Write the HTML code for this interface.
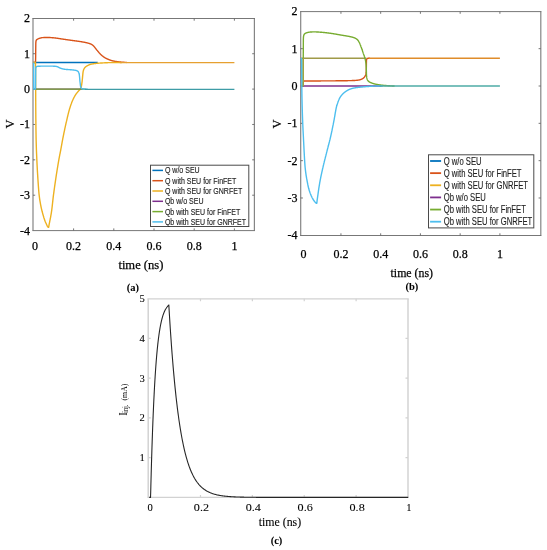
<!DOCTYPE html>
<html><head><meta charset="utf-8"><title>Figure</title>
<style>html,body{margin:0;padding:0;background:#fff;}svg{display:block;}</style>
</head><body>
<svg width="547" height="550" viewBox="0 0 547 550">
<rect width="547" height="550" fill="#fff"/>
<g fill="none"><path d="M33.0,18.5V230.6M254.4,18.5V230.6" stroke="#858585" stroke-width="1.2"/><path d="M32.40,18.5H255.00M32.40,230.6H255.00" stroke="#686868" stroke-width="0.9"/><path d="M73.60,230.6v-2.2M73.60,18.5v2.2M113.80,230.6v-2.2M113.80,18.5v2.2M154.00,230.6v-2.2M154.00,18.5v2.2M194.20,230.6v-2.2M194.20,18.5v2.2M234.40,230.6v-2.2M234.40,18.5v2.2M33.0,53.73h2.2M254.4,53.73h-2.2M33.0,89.10h2.2M254.4,89.10h-2.2M33.0,124.47h2.2M254.4,124.47h-2.2M33.0,159.84h2.2M254.4,159.84h-2.2M33.0,195.21h2.2M254.4,195.21h-2.2" stroke="#686868" stroke-width="0.9"/></g>
<path d="M33.40,62.57 L97.72,62.57" fill="none" stroke="#0072BD" stroke-width="1.4" stroke-linejoin="round" stroke-linecap="butt" />
<path d="M33.40,62.57 L33.56,62.57 L33.71,62.57 L33.87,62.57 L34.02,62.57 L34.18,62.57 L34.34,62.57 L34.49,62.57 L34.65,62.57 L34.80,62.57 L34.96,62.57 L35.12,62.57 L35.27,62.57 L35.43,62.57 L35.51,62.57 L35.58,60.68 L35.65,57.27 L35.74,48.46 L35.81,43.12 L35.90,41.96 L36.05,40.83 L36.11,40.64 L36.21,40.44 L36.36,40.16 L36.52,39.93 L36.68,39.75 L36.83,39.61 L36.99,39.50 L37.14,39.40 L37.30,39.30 L37.42,39.23 L37.46,39.20 L37.61,39.11 L37.77,39.02 L37.93,38.94 L38.08,38.86 L38.24,38.78 L38.39,38.72 L38.55,38.65 L38.71,38.59 L38.86,38.53 L39.02,38.48 L39.17,38.43 L39.33,38.38 L39.43,38.34 L39.49,38.33 L39.64,38.28 L39.80,38.23 L39.95,38.18 L40.11,38.13 L40.27,38.09 L40.42,38.04 L40.58,37.99 L40.73,37.95 L40.89,37.91 L41.05,37.87 L41.20,37.83 L41.36,37.80 L41.51,37.76 L41.67,37.73 L41.83,37.71 L41.98,37.68 L42.14,37.66 L42.29,37.65 L42.45,37.64 L42.45,37.64 L42.61,37.63 L42.76,37.62 L42.92,37.61 L43.07,37.60 L43.23,37.59 L43.39,37.58 L43.54,37.57 L43.70,37.56 L43.85,37.56 L44.01,37.55 L44.17,37.54 L44.32,37.53 L44.48,37.53 L44.63,37.52 L44.79,37.51 L44.95,37.51 L45.10,37.50 L45.26,37.50 L45.41,37.49 L45.57,37.49 L45.73,37.48 L45.88,37.48 L46.04,37.48 L46.19,37.47 L46.35,37.47 L46.51,37.47 L46.66,37.46 L46.82,37.46 L46.98,37.46 L47.13,37.46 L47.29,37.46 L47.44,37.46 L47.47,37.46 L47.60,37.46 L47.76,37.46 L47.91,37.46 L48.07,37.47 L48.22,37.47 L48.38,37.47 L48.54,37.48 L48.69,37.48 L48.85,37.49 L49.00,37.49 L49.16,37.50 L49.32,37.51 L49.47,37.52 L49.63,37.52 L49.78,37.53 L49.94,37.54 L50.10,37.55 L50.25,37.56 L50.41,37.57 L50.56,37.58 L50.72,37.59 L50.88,37.60 L51.03,37.62 L51.19,37.63 L51.34,37.64 L51.50,37.65 L51.66,37.66 L51.81,37.68 L51.97,37.69 L52.12,37.70 L52.28,37.71 L52.44,37.73 L52.59,37.74 L52.75,37.75 L52.90,37.77 L53.06,37.78 L53.22,37.79 L53.37,37.80 L53.50,37.81 L53.53,37.82 L53.68,37.83 L53.84,37.84 L54.00,37.86 L54.15,37.87 L54.31,37.89 L54.46,37.90 L54.62,37.92 L54.78,37.93 L54.93,37.95 L55.09,37.97 L55.24,37.99 L55.40,38.01 L55.56,38.02 L55.71,38.04 L55.87,38.06 L56.03,38.08 L56.18,38.10 L56.34,38.12 L56.49,38.15 L56.65,38.17 L56.81,38.19 L56.96,38.21 L57.12,38.23 L57.27,38.26 L57.43,38.28 L57.59,38.30 L57.74,38.32 L57.90,38.35 L58.05,38.37 L58.21,38.40 L58.37,38.42 L58.52,38.44 L58.68,38.47 L58.83,38.49 L58.99,38.52 L59.15,38.54 L59.30,38.57 L59.46,38.59 L59.61,38.62 L59.77,38.64 L59.93,38.67 L60.08,38.69 L60.24,38.72 L60.39,38.74 L60.55,38.77 L60.71,38.79 L60.86,38.82 L61.02,38.84 L61.17,38.87 L61.33,38.89 L61.49,38.92 L61.64,38.94 L61.80,38.97 L61.95,38.99 L62.11,39.01 L62.27,39.04 L62.42,39.06 L62.58,39.09 L62.73,39.11 L62.89,39.13 L63.05,39.16 L63.20,39.18 L63.36,39.20 L63.51,39.22 L63.55,39.23 L63.67,39.25 L63.83,39.27 L63.98,39.29 L64.14,39.31 L64.29,39.33 L64.45,39.36 L64.61,39.38 L64.76,39.40 L64.92,39.42 L65.08,39.44 L65.23,39.47 L65.39,39.49 L65.54,39.51 L65.70,39.53 L65.86,39.55 L66.01,39.58 L66.17,39.60 L66.32,39.62 L66.48,39.64 L66.64,39.66 L66.79,39.69 L66.95,39.71 L67.10,39.73 L67.26,39.75 L67.42,39.77 L67.57,39.80 L67.73,39.82 L67.88,39.84 L68.04,39.86 L68.20,39.88 L68.35,39.91 L68.51,39.93 L68.66,39.95 L68.82,39.97 L68.98,39.99 L69.13,40.02 L69.29,40.04 L69.44,40.06 L69.60,40.08 L69.76,40.10 L69.91,40.13 L70.07,40.15 L70.22,40.17 L70.38,40.19 L70.54,40.21 L70.69,40.24 L70.85,40.26 L71.00,40.28 L71.16,40.30 L71.32,40.32 L71.47,40.35 L71.63,40.37 L71.78,40.39 L71.94,40.41 L72.10,40.43 L72.25,40.46 L72.41,40.48 L72.56,40.50 L72.72,40.52 L72.88,40.54 L73.03,40.56 L73.19,40.59 L73.34,40.61 L73.50,40.63 L73.60,40.64 L73.66,40.65 L73.81,40.67 L73.97,40.69 L74.13,40.72 L74.28,40.74 L74.44,40.76 L74.59,40.78 L74.75,40.80 L74.91,40.82 L75.06,40.84 L75.22,40.86 L75.37,40.88 L75.53,40.90 L75.69,40.92 L75.84,40.94 L76.00,40.96 L76.15,40.98 L76.31,41.00 L76.47,41.02 L76.62,41.04 L76.78,41.06 L76.93,41.09 L77.09,41.11 L77.25,41.13 L77.40,41.15 L77.56,41.17 L77.71,41.19 L77.87,41.21 L78.03,41.23 L78.18,41.25 L78.34,41.28 L78.49,41.30 L78.65,41.32 L78.81,41.34 L78.96,41.37 L79.12,41.39 L79.27,41.41 L79.43,41.43 L79.59,41.46 L79.74,41.48 L79.90,41.51 L80.03,41.53 L80.05,41.53 L80.21,41.56 L80.37,41.58 L80.52,41.61 L80.68,41.63 L80.83,41.65 L80.99,41.68 L81.15,41.70 L81.30,41.73 L81.46,41.76 L81.61,41.78 L81.77,41.81 L81.93,41.83 L82.08,41.86 L82.24,41.88 L82.40,41.91 L82.55,41.94 L82.71,41.96 L82.86,41.99 L83.02,42.02 L83.18,42.05 L83.33,42.07 L83.49,42.10 L83.64,42.13 L83.80,42.16 L83.96,42.19 L84.11,42.22 L84.27,42.25 L84.42,42.28 L84.58,42.31 L84.74,42.34 L84.89,42.37 L85.05,42.40 L85.20,42.44 L85.36,42.47 L85.52,42.50 L85.67,42.54 L85.83,42.57 L85.98,42.61 L86.14,42.64 L86.30,42.68 L86.45,42.71 L86.61,42.75 L86.66,42.77 L86.76,42.79 L86.92,42.83 L87.08,42.87 L87.23,42.90 L87.39,42.94 L87.54,42.98 L87.70,43.02 L87.86,43.06 L88.01,43.10 L88.17,43.15 L88.32,43.19 L88.48,43.23 L88.64,43.28 L88.79,43.32 L88.95,43.37 L89.10,43.42 L89.26,43.47 L89.42,43.52 L89.57,43.57 L89.73,43.62 L89.88,43.68 L90.04,43.74 L90.20,43.80 L90.35,43.86 L90.51,43.92 L90.66,43.98 L90.82,44.05 L90.98,44.12 L91.13,44.19 L91.29,44.26 L91.45,44.34 L91.49,44.36 L91.60,44.41 L91.76,44.50 L91.91,44.60 L92.07,44.71 L92.23,44.82 L92.38,44.94 L92.54,45.06 L92.69,45.20 L92.85,45.33 L93.01,45.47 L93.16,45.61 L93.32,45.76 L93.47,45.91 L93.63,46.06 L93.70,46.13 L93.79,46.21 L93.94,46.37 L94.10,46.54 L94.25,46.72 L94.41,46.90 L94.57,47.09 L94.72,47.28 L94.88,47.48 L95.03,47.69 L95.19,47.89 L95.35,48.10 L95.50,48.30 L95.66,48.51 L95.81,48.71 L95.97,48.92 L96.13,49.12 L96.28,49.31 L96.44,49.50 L96.51,49.59 L96.59,49.69 L96.75,49.87 L96.91,50.06 L97.06,50.25 L97.22,50.44 L97.37,50.62 L97.53,50.81 L97.69,51.00 L97.84,51.19 L98.00,51.38 L98.15,51.57 L98.31,51.76 L98.47,51.94 L98.62,52.13 L98.78,52.31 L98.93,52.50 L99.09,52.68 L99.25,52.86 L99.40,53.04 L99.56,53.22 L99.71,53.39 L99.87,53.56 L100.03,53.73 L100.18,53.90 L100.34,54.07 L100.50,54.23 L100.65,54.39 L100.81,54.54 L100.96,54.69 L101.12,54.84 L101.28,54.98 L101.34,55.04 L101.43,55.12 L101.59,55.26 L101.74,55.40 L101.90,55.53 L102.06,55.66 L102.21,55.79 L102.37,55.92 L102.52,56.05 L102.68,56.17 L102.84,56.29 L102.99,56.42 L103.15,56.53 L103.30,56.65 L103.46,56.76 L103.62,56.88 L103.77,56.99 L103.93,57.09 L104.08,57.20 L104.24,57.30 L104.40,57.40 L104.55,57.50 L104.71,57.59 L104.75,57.62 L104.86,57.69 L105.02,57.78 L105.18,57.86 L105.33,57.95 L105.49,58.04 L105.64,58.12 L105.80,58.20 L105.96,58.28 L106.11,58.36 L106.27,58.44 L106.42,58.52 L106.58,58.59 L106.74,58.66 L106.89,58.74 L107.05,58.81 L107.20,58.88 L107.36,58.95 L107.52,59.02 L107.67,59.08 L107.83,59.15 L107.97,59.21 L107.98,59.22 L108.14,59.28 L108.30,59.35 L108.45,59.42 L108.61,59.48 L108.76,59.55 L108.92,59.61 L109.08,59.68 L109.23,59.74 L109.39,59.80 L109.55,59.87 L109.70,59.93 L109.86,59.99 L110.01,60.05 L110.17,60.11 L110.33,60.16 L110.48,60.22 L110.64,60.27 L110.79,60.33 L110.95,60.38 L111.11,60.43 L111.26,60.48 L111.42,60.52 L111.57,60.57 L111.73,60.61 L111.79,60.63 L111.89,60.65 L112.04,60.69 L112.20,60.73 L112.35,60.77 L112.51,60.81 L112.67,60.84 L112.82,60.88 L112.98,60.92 L113.13,60.95 L113.29,60.99 L113.45,61.02 L113.60,61.05 L113.76,61.08 L113.91,61.12 L114.07,61.15 L114.23,61.18 L114.38,61.21 L114.54,61.24 L114.69,61.26 L114.85,61.29 L115.01,61.32 L115.16,61.35 L115.32,61.37 L115.47,61.40 L115.63,61.42 L115.79,61.45 L115.94,61.47 L116.10,61.49 L116.21,61.51 L116.25,61.52 L116.41,61.54 L116.57,61.56 L116.72,61.58 L116.88,61.61 L117.03,61.63 L117.19,61.65 L117.35,61.67 L117.50,61.69 L117.66,61.71 L117.81,61.73 L117.97,61.75 L118.13,61.77 L118.28,61.79 L118.44,61.81 L118.60,61.83 L118.75,61.85 L118.91,61.87 L119.06,61.88 L119.22,61.90 L119.38,61.92 L119.53,61.94 L119.69,61.95 L119.84,61.97 L120.00,61.99 L120.16,62.00 L120.31,62.02 L120.47,62.03 L120.62,62.05 L120.78,62.06 L120.94,62.07 L121.09,62.09 L121.25,62.10 L121.40,62.11 L121.56,62.13 L121.72,62.14 L121.84,62.15 L121.87,62.15 L122.03,62.16 L122.18,62.17 L122.34,62.18 L122.50,62.20 L122.65,62.21 L122.81,62.22 L122.96,62.23 L123.12,62.24 L123.28,62.25 L123.43,62.26 L123.59,62.27 L123.74,62.28 L123.90,62.29 L124.06,62.30 L124.21,62.31 L124.37,62.32 L124.52,62.33 L124.68,62.34 L124.84,62.35 L124.99,62.35 L125.15,62.36 L125.30,62.37 L125.46,62.38 L125.62,62.38 L125.77,62.39 L125.93,62.40 L126.08,62.40 L126.24,62.41 L126.40,62.42 L126.55,62.42 L126.71,62.43 L126.87,62.43" fill="none" stroke="#D95319" stroke-width="1.4" stroke-linejoin="round" stroke-linecap="butt" />
<path d="M33.40,62.57 L33.51,62.57 L33.62,62.57 L33.73,62.57 L33.84,62.57 L33.95,62.57 L34.06,62.57 L34.17,62.57 L34.29,62.57 L34.40,62.57 L34.51,62.57 L34.62,62.57 L34.73,62.57 L34.84,62.57 L34.95,62.57 L35.06,62.57 L35.17,62.57 L35.28,62.57 L35.39,62.57 L35.50,62.57 L35.51,62.57 L35.61,72.48 L35.65,78.49 L35.72,98.81 L35.77,110.32 L35.84,118.37 L35.95,128.93 L36.06,136.07 L36.09,137.91 L36.17,141.17 L36.28,145.38 L36.39,148.92 L36.50,151.95 L36.61,154.63 L36.72,157.14 L36.82,159.31 L36.83,159.64 L36.94,162.07 L37.05,164.38 L37.16,166.57 L37.27,168.65 L37.38,170.63 L37.50,172.53 L37.61,174.36 L37.72,176.13 L37.83,177.85 L37.92,179.29 L37.94,179.53 L38.05,181.20 L38.16,182.84 L38.27,184.46 L38.38,186.04 L38.49,187.57 L38.60,189.03 L38.71,190.43 L38.82,191.75 L38.93,192.97 L39.05,194.09 L39.13,194.86 L39.16,195.10 L39.27,196.03 L39.38,196.92 L39.49,197.77 L39.60,198.57 L39.71,199.34 L39.82,200.07 L39.93,200.77 L40.04,201.44 L40.15,202.10 L40.26,202.73 L40.37,203.34 L40.48,203.95 L40.59,204.54 L40.64,204.76 L40.71,205.13 L40.82,205.70 L40.93,206.25 L41.04,206.80 L41.15,207.33 L41.26,207.84 L41.37,208.34 L41.48,208.83 L41.59,209.31 L41.70,209.78 L41.81,210.23 L41.92,210.68 L42.03,211.11 L42.14,211.53 L42.22,211.83 L42.26,211.95 L42.37,212.36 L42.48,212.77 L42.59,213.18 L42.70,213.58 L42.81,213.98 L42.92,214.37 L43.03,214.77 L43.14,215.16 L43.25,215.54 L43.36,215.92 L43.47,216.30 L43.58,216.67 L43.69,217.04 L43.80,217.40 L43.92,217.75 L44.03,218.11 L44.14,218.45 L44.25,218.79 L44.36,219.13 L44.47,219.45 L44.58,219.78 L44.69,220.09 L44.80,220.40 L44.91,220.70 L45.02,220.99 L45.13,221.28 L45.24,221.56 L45.35,221.83 L45.47,222.09 L45.58,222.35 L45.69,222.59 L45.78,222.80 L45.80,222.83 L45.91,223.07 L46.02,223.31 L46.13,223.56 L46.24,223.81 L46.35,224.06 L46.46,224.31 L46.57,224.56 L46.68,224.80 L46.79,225.04 L46.90,225.28 L47.01,225.51 L47.13,225.73 L47.24,225.95 L47.35,226.15 L47.46,226.35 L47.57,226.53 L47.68,226.69 L47.79,226.85 L47.90,226.98 L48.01,227.10 L48.12,227.20 L48.23,227.28 L48.34,227.34 L48.45,227.38 L48.56,227.40 L48.58,227.40 L48.67,227.17 L48.79,226.54 L48.90,225.77 L48.98,225.27 L49.01,225.12 L49.12,224.54 L49.23,223.97 L49.34,223.41 L49.45,222.85 L49.56,222.30 L49.67,221.75 L49.78,221.21 L49.89,220.66 L50.00,220.11 L50.11,219.56 L50.22,219.01 L50.34,218.45 L50.45,217.88 L50.56,217.30 L50.67,216.71 L50.78,216.11 L50.89,215.49 L51.00,214.86 L51.11,214.21 L51.22,213.54 L51.33,212.86 L51.44,212.15 L51.49,211.83 L51.55,211.41 L51.66,210.62 L51.77,209.79 L51.88,208.91 L52.00,208.00 L52.11,207.05 L52.22,206.08 L52.33,205.09 L52.44,204.09 L52.55,203.08 L52.66,202.07 L52.77,201.06 L52.88,200.05 L52.99,199.06 L53.10,198.09 L53.21,197.15 L53.32,196.23 L53.43,195.36 L53.50,194.86 L53.55,194.52 L53.66,193.69 L53.77,192.86 L53.88,192.05 L53.99,191.23 L54.10,190.42 L54.21,189.62 L54.32,188.82 L54.43,188.02 L54.54,187.23 L54.65,186.44 L54.76,185.66 L54.87,184.89 L54.98,184.11 L55.09,183.35 L55.21,182.58 L55.32,181.82 L55.43,181.07 L55.54,180.32 L55.65,179.57 L55.76,178.83 L55.87,178.09 L55.98,177.36 L56.09,176.63 L56.20,175.91 L56.31,175.18 L56.42,174.47 L56.53,173.76 L56.64,173.05 L56.76,172.34 L56.87,171.64 L56.98,170.95 L57.09,170.25 L57.20,169.57 L57.31,168.88 L57.42,168.20 L57.53,167.53 L57.64,166.85 L57.75,166.18 L57.86,165.52 L57.97,164.86 L58.08,164.20 L58.19,163.55 L58.30,162.90 L58.42,162.25 L58.53,161.61 L58.64,160.97 L58.75,160.33 L58.86,159.70 L58.93,159.31 L58.97,159.07 L59.08,158.46 L59.19,157.85 L59.30,157.26 L59.41,156.68 L59.52,156.11 L59.63,155.54 L59.74,154.98 L59.85,154.42 L59.97,153.87 L60.08,153.31 L60.19,152.76 L60.30,152.20 L60.41,151.64 L60.52,151.07 L60.63,150.50 L60.74,149.94 L60.74,149.92 L60.85,149.32 L60.96,148.73 L61.07,148.13 L61.18,147.52 L61.29,146.91 L61.40,146.29 L61.51,145.68 L61.63,145.06 L61.74,144.45 L61.85,143.83 L61.96,143.21 L62.07,142.60 L62.18,141.99 L62.29,141.38 L62.40,140.78 L62.51,140.19 L62.62,139.60 L62.73,139.02 L62.84,138.44 L62.95,137.91 L62.95,137.88 L63.06,137.32 L63.18,136.76 L63.29,136.20 L63.40,135.65 L63.51,135.10 L63.62,134.56 L63.73,134.01 L63.84,133.47 L63.95,132.93 L64.06,132.39 L64.17,131.86 L64.28,131.32 L64.39,130.79 L64.50,130.27 L64.61,129.74 L64.72,129.22 L64.84,128.70 L64.95,128.19 L65.06,127.67 L65.17,127.16 L65.28,126.65 L65.39,126.15 L65.50,125.64 L65.61,125.14 L65.72,124.64 L65.83,124.15 L65.94,123.65 L66.05,123.16 L66.16,122.68 L66.27,122.19 L66.39,121.71 L66.50,121.23 L66.56,120.93 L66.61,120.75 L66.72,120.28 L66.83,119.80 L66.94,119.33 L67.05,118.85 L67.16,118.38 L67.27,117.90 L67.38,117.43 L67.49,116.96 L67.60,116.49 L67.71,116.03 L67.82,115.57 L67.93,115.11 L68.05,114.65 L68.16,114.20 L68.27,113.76 L68.38,113.31 L68.49,112.88 L68.60,112.45 L68.71,112.02 L68.82,111.60 L68.93,111.19 L69.04,110.78 L69.15,110.38 L69.26,109.99 L69.37,109.60 L69.48,109.23 L69.58,108.91 L69.60,108.86 L69.71,108.49 L69.82,108.13 L69.93,107.78 L70.04,107.43 L70.15,107.08 L70.26,106.73 L70.37,106.39 L70.48,106.05 L70.59,105.72 L70.70,105.39 L70.81,105.06 L70.92,104.74 L71.03,104.42 L71.14,104.11 L71.26,103.80 L71.37,103.49 L71.48,103.19 L71.59,102.89 L71.70,102.60 L71.81,102.32 L71.92,102.03 L72.03,101.76 L72.14,101.48 L72.25,101.22 L72.36,100.95 L72.47,100.70 L72.58,100.44 L72.59,100.42 L72.69,100.20 L72.81,99.95 L72.92,99.71 L73.03,99.47 L73.14,99.23 L73.25,99.00 L73.36,98.77 L73.47,98.54 L73.58,98.32 L73.69,98.10 L73.80,97.88 L73.91,97.66 L74.02,97.45 L74.13,97.24 L74.24,97.03 L74.35,96.83 L74.47,96.63 L74.58,96.43 L74.69,96.23 L74.80,96.04 L74.91,95.85 L75.02,95.66 L75.13,95.48 L75.24,95.30 L75.35,95.12 L75.46,94.94 L75.57,94.77 L75.68,94.60 L75.79,94.43 L75.81,94.41 L75.90,94.27 L76.02,94.11 L76.13,93.95 L76.24,93.79 L76.35,93.64 L76.46,93.49 L76.57,93.34 L76.68,93.20 L76.79,93.06 L76.90,92.91 L77.01,92.78 L77.12,92.64 L77.23,92.50 L77.34,92.37 L77.45,92.24 L77.56,92.10 L77.68,91.97 L77.79,91.84 L77.90,91.71 L78.01,91.59 L78.12,91.46 L78.23,91.33 L78.34,91.20 L78.45,91.07 L78.56,90.94 L78.62,90.87 L78.67,90.81 L78.78,90.69 L78.89,90.58 L79.00,90.46 L79.11,90.35 L79.22,90.25 L79.34,90.14 L79.45,90.03 L79.56,89.92 L79.67,89.80 L79.78,89.68 L79.89,89.56 L80.00,89.42 L80.11,89.27 L80.22,89.12 L80.23,89.10 L80.33,88.95 L80.44,88.78 L80.55,88.59 L80.66,88.39 L80.77,88.18 L80.89,87.94 L81.00,87.67 L81.11,87.37 L81.22,87.04 L81.24,86.98 L81.33,86.64 L81.44,86.12 L81.55,85.49 L81.66,84.77 L81.77,84.01 L81.88,83.20 L81.99,82.39 L82.04,82.03 L82.10,81.56 L82.21,80.59 L82.32,79.49 L82.43,78.32 L82.55,77.10 L82.66,75.88 L82.77,74.71 L82.88,73.61 L82.99,72.64 L83.10,71.83 L83.21,71.22 L83.25,71.06 L83.32,70.80 L83.43,70.43 L83.54,70.09 L83.65,69.78 L83.76,69.49 L83.87,69.22 L83.98,68.98 L84.10,68.76 L84.21,68.56 L84.32,68.37 L84.43,68.20 L84.54,68.04 L84.65,67.89 L84.66,67.88 L84.76,67.75 L84.87,67.61 L84.98,67.48 L85.09,67.36 L85.20,67.24 L85.31,67.13 L85.42,67.03 L85.53,66.93 L85.64,66.83 L85.76,66.74 L85.87,66.65 L85.98,66.57 L86.09,66.48 L86.20,66.41 L86.31,66.33 L86.42,66.26 L86.53,66.19 L86.64,66.12 L86.66,66.11 L86.75,66.06 L86.86,65.99 L86.97,65.93 L87.08,65.86 L87.19,65.80 L87.31,65.74 L87.42,65.68 L87.53,65.62 L87.64,65.56 L87.75,65.50 L87.86,65.44 L87.97,65.38 L88.08,65.33 L88.19,65.27 L88.30,65.22 L88.41,65.16 L88.52,65.11 L88.63,65.06 L88.74,65.01 L88.85,64.96 L88.97,64.91 L89.08,64.86 L89.19,64.81 L89.30,64.77 L89.41,64.72 L89.52,64.68 L89.63,64.64 L89.74,64.59 L89.85,64.55 L89.96,64.51 L90.07,64.48 L90.18,64.44 L90.29,64.40 L90.40,64.37 L90.52,64.33 L90.63,64.30 L90.74,64.27 L90.85,64.24 L90.96,64.21 L91.07,64.19 L91.18,64.16 L91.29,64.13 L91.40,64.11 L91.49,64.09 L91.51,64.09 L91.62,64.07 L91.73,64.05 L91.84,64.03 L91.95,64.00 L92.06,63.98 L92.18,63.96 L92.29,63.94 L92.40,63.92 L92.51,63.91 L92.62,63.89 L92.73,63.87 L92.84,63.85 L92.95,63.83 L93.06,63.81 L93.17,63.79 L93.28,63.78 L93.39,63.76 L93.50,63.74 L93.61,63.73 L93.73,63.71 L93.84,63.69 L93.95,63.68 L94.06,63.66 L94.17,63.65 L94.28,63.63 L94.39,63.61 L94.50,63.60 L94.61,63.58 L94.72,63.57 L94.83,63.56 L94.94,63.54 L95.05,63.53 L95.16,63.51 L95.27,63.50 L95.39,63.49 L95.50,63.47 L95.61,63.46 L95.72,63.45 L95.83,63.44 L95.94,63.42 L96.05,63.41 L96.16,63.40 L96.27,63.39 L96.38,63.38 L96.49,63.37 L96.60,63.35 L96.71,63.34 L96.82,63.33 L96.94,63.32 L97.05,63.31 L97.16,63.30 L97.27,63.29 L97.38,63.28 L97.49,63.27 L97.60,63.26 L97.71,63.25 L97.82,63.24 L97.93,63.23 L98.04,63.22 L98.15,63.22 L98.26,63.21 L98.37,63.20 L98.48,63.19 L98.60,63.18 L98.71,63.17 L98.82,63.16 L98.93,63.16 L99.04,63.15 L99.15,63.14 L99.26,63.13 L99.37,63.13 L99.48,63.12 L99.59,63.11 L99.70,63.10 L99.73,63.10 L99.81,63.10 L99.92,63.09 L100.03,63.08 L100.15,63.08 L100.26,63.07 L100.37,63.06 L100.48,63.06 L100.59,63.05 L100.70,63.04 L100.81,63.04 L100.92,63.03 L101.03,63.02 L101.14,63.02 L101.25,63.01 L101.36,63.00 L101.47,62.99 L101.58,62.99 L101.69,62.98 L101.81,62.97 L101.92,62.97 L102.03,62.96 L102.14,62.95 L102.25,62.95 L102.36,62.94 L102.47,62.93 L102.58,62.93 L102.69,62.92 L102.80,62.92 L102.91,62.91 L103.02,62.90 L103.13,62.90 L103.24,62.89 L103.36,62.88 L103.47,62.88 L103.58,62.87 L103.69,62.87 L103.80,62.86 L103.91,62.85 L104.02,62.85 L104.13,62.84 L104.24,62.84 L104.35,62.83 L104.46,62.82 L104.57,62.82 L104.68,62.81 L104.79,62.81 L104.90,62.80 L105.02,62.79 L105.13,62.79 L105.24,62.78 L105.35,62.78 L105.46,62.77 L105.57,62.77 L105.68,62.76 L105.79,62.76 L105.90,62.75 L106.01,62.75 L106.12,62.74 L106.23,62.74 L106.34,62.73 L106.45,62.73 L106.57,62.72 L106.68,62.72 L106.79,62.71 L106.90,62.71 L107.01,62.70 L107.12,62.70 L107.23,62.69 L107.34,62.69 L107.45,62.68 L107.56,62.68 L107.67,62.68 L107.78,62.67 L107.89,62.67 L108.00,62.66 L108.11,62.66 L108.23,62.66 L108.34,62.65 L108.45,62.65 L108.56,62.65 L108.67,62.64 L108.78,62.64 L108.89,62.63 L109.00,62.63 L109.11,62.63 L109.22,62.63 L109.33,62.62 L109.44,62.62 L109.55,62.62 L109.66,62.61 L109.77,62.61 L109.89,62.61 L110.00,62.61 L110.11,62.60 L110.22,62.60 L110.33,62.60 L110.44,62.60 L110.55,62.59 L110.66,62.59 L110.77,62.59 L110.88,62.59 L110.99,62.59 L111.10,62.58 L111.21,62.58 L111.32,62.58 L111.44,62.58 L111.55,62.58 L111.66,62.58 L111.77,62.58 L111.88,62.58 L111.99,62.58 L112.10,62.57 L112.21,62.57 L112.32,62.57 L112.43,62.57 L112.54,62.57 L112.65,62.57 L112.76,62.57 L112.80,62.57 L112.87,62.57 L112.98,62.57 L113.10,62.57 L113.21,62.57 L113.32,62.57 L113.43,62.57 L113.54,62.57 L113.65,62.57 L113.76,62.57 L113.87,62.57 L113.98,62.57 L114.09,62.57 L114.20,62.57 L114.31,62.57 L114.42,62.57 L114.53,62.57 L114.65,62.57 L114.76,62.57 L114.87,62.57 L114.98,62.57 L115.09,62.57 L115.20,62.57 L115.31,62.57 L115.42,62.57 L115.53,62.57 L115.64,62.57 L115.75,62.57 L115.86,62.57 L115.97,62.57 L116.08,62.57 L116.19,62.57 L116.31,62.57 L116.42,62.57 L116.53,62.57 L116.64,62.57 L116.75,62.57 L116.86,62.57 L116.97,62.57 L117.08,62.57 L117.19,62.57 L117.30,62.57 L117.41,62.57 L117.52,62.57 L117.63,62.57 L117.74,62.57 L117.86,62.57 L117.97,62.57 L118.08,62.57 L118.19,62.57 L118.30,62.57 L118.41,62.57 L118.52,62.57 L118.63,62.57 L118.74,62.57 L118.85,62.57 L118.96,62.57 L119.07,62.57 L119.18,62.57 L119.29,62.57 L119.40,62.57 L119.52,62.57 L119.63,62.57 L119.74,62.57 L119.85,62.57 L119.96,62.57 L120.07,62.57 L120.18,62.57 L120.29,62.57 L120.40,62.57 L120.51,62.57 L120.62,62.57 L120.73,62.57 L120.84,62.57 L120.95,62.57 L121.07,62.57 L121.18,62.57 L121.29,62.57 L121.40,62.57 L121.51,62.57 L121.62,62.57 L121.73,62.57 L121.84,62.57" fill="none" stroke="#EDB120" stroke-width="1.4" stroke-linejoin="round" stroke-linecap="butt" />
<path d="M119.83,62.67 L234.40,62.67" fill="none" stroke="#E6A030" stroke-width="1.4" stroke-linejoin="round" stroke-linecap="butt" />
<path d="M33.40,89.10 L83.65,89.10" fill="none" stroke="#7E2F8E" stroke-width="1.4" stroke-linejoin="round" stroke-linecap="butt" />
<path d="M33.40,89.10 L85.66,89.10" fill="none" stroke="#77AC30" stroke-width="1.4" stroke-linejoin="round" stroke-linecap="butt" />
<path d="M33.40,62.57 L33.47,62.70 L33.54,63.10 L33.60,63.80 L33.64,64.34 L33.67,68.56 L33.74,86.95 L33.76,89.10 L33.81,89.10 L33.88,89.10 L33.94,89.10 L34.01,89.10 L34.08,89.10 L34.15,89.10 L34.22,89.10 L34.28,89.10 L34.35,89.10 L34.42,89.10 L34.49,89.10 L34.55,89.10 L34.62,89.10 L34.69,89.10 L34.76,89.10 L34.83,89.10 L34.89,89.10 L34.96,89.10 L35.03,89.10 L35.10,89.10 L35.17,89.10 L35.23,89.10 L35.30,89.10 L35.37,89.10 L35.44,89.10 L35.45,89.10 L35.51,86.99 L35.57,81.35 L35.61,78.49 L35.64,76.32 L35.71,71.14 L35.77,68.59 L35.78,68.54 L35.85,68.07 L35.91,67.71 L35.98,67.44 L36.05,67.25 L36.12,67.11 L36.18,67.02 L36.21,66.99 L36.25,66.96 L36.32,66.90 L36.39,66.84 L36.46,66.79 L36.52,66.74 L36.59,66.69 L36.66,66.65 L36.73,66.61 L36.80,66.57 L36.86,66.54 L36.93,66.50 L37.00,66.47 L37.07,66.45 L37.14,66.42 L37.20,66.40 L37.27,66.38 L37.34,66.36 L37.41,66.34 L37.48,66.33 L37.54,66.32 L37.61,66.31 L37.68,66.30 L37.75,66.29 L37.81,66.29 L37.82,66.29 L37.88,66.28 L37.95,66.28 L38.02,66.28 L38.09,66.27 L38.15,66.27 L38.22,66.27 L38.29,66.26 L38.36,66.26 L38.43,66.26 L38.49,66.25 L38.56,66.25 L38.63,66.25 L38.70,66.24 L38.77,66.24 L38.83,66.24 L38.90,66.23 L38.97,66.23 L39.04,66.23 L39.11,66.22 L39.17,66.22 L39.24,66.22 L39.31,66.22 L39.38,66.21 L39.45,66.21 L39.51,66.21 L39.58,66.21 L39.65,66.20 L39.72,66.20 L39.78,66.20 L39.85,66.20 L39.92,66.19 L39.99,66.19 L40.06,66.19 L40.12,66.19 L40.19,66.18 L40.26,66.18 L40.33,66.18 L40.40,66.18 L40.46,66.18 L40.53,66.17 L40.60,66.17 L40.67,66.17 L40.74,66.17 L40.80,66.17 L40.87,66.16 L40.94,66.16 L41.01,66.16 L41.08,66.16 L41.14,66.16 L41.21,66.16 L41.28,66.15 L41.35,66.15 L41.41,66.15 L41.48,66.15 L41.55,66.15 L41.62,66.15 L41.69,66.14 L41.75,66.14 L41.82,66.14 L41.89,66.14 L41.96,66.14 L42.03,66.14 L42.09,66.14 L42.16,66.14 L42.23,66.13 L42.30,66.13 L42.37,66.13 L42.43,66.13 L42.50,66.13 L42.57,66.13 L42.64,66.13 L42.71,66.13 L42.77,66.13 L42.84,66.13 L42.91,66.12 L42.98,66.12 L43.04,66.12 L43.11,66.12 L43.18,66.12 L43.25,66.12 L43.32,66.12 L43.38,66.12 L43.45,66.12 L43.52,66.12 L43.59,66.12 L43.66,66.12 L43.72,66.12 L43.79,66.12 L43.86,66.12 L43.93,66.11 L44.00,66.11 L44.06,66.11 L44.13,66.11 L44.20,66.11 L44.27,66.11 L44.34,66.11 L44.40,66.11 L44.47,66.11 L44.54,66.11 L44.61,66.11 L44.68,66.11 L44.74,66.11 L44.81,66.11 L44.88,66.11 L44.95,66.11 L45.01,66.11 L45.08,66.11 L45.15,66.11 L45.22,66.11 L45.29,66.11 L45.35,66.11 L45.42,66.11 L45.46,66.11 L45.49,66.11 L45.56,66.11 L45.63,66.11 L45.69,66.11 L45.76,66.11 L45.83,66.11 L45.90,66.11 L45.97,66.11 L46.03,66.11 L46.10,66.11 L46.17,66.11 L46.24,66.11 L46.31,66.11 L46.37,66.11 L46.44,66.11 L46.51,66.11 L46.58,66.11 L46.64,66.11 L46.71,66.11 L46.78,66.11 L46.85,66.11 L46.92,66.11 L46.98,66.11 L47.05,66.11 L47.12,66.11 L47.19,66.11 L47.26,66.11 L47.32,66.11 L47.39,66.11 L47.46,66.11 L47.53,66.11 L47.60,66.11 L47.66,66.11 L47.73,66.11 L47.80,66.12 L47.87,66.12 L47.94,66.12 L48.00,66.12 L48.07,66.12 L48.14,66.12 L48.21,66.12 L48.28,66.12 L48.34,66.12 L48.41,66.12 L48.48,66.12 L48.55,66.12 L48.61,66.12 L48.68,66.12 L48.75,66.12 L48.82,66.12 L48.89,66.12 L48.95,66.12 L49.02,66.12 L49.09,66.12 L49.16,66.12 L49.23,66.12 L49.29,66.12 L49.36,66.13 L49.43,66.13 L49.50,66.13 L49.57,66.13 L49.63,66.13 L49.70,66.13 L49.77,66.13 L49.84,66.13 L49.91,66.13 L49.97,66.13 L50.04,66.13 L50.11,66.13 L50.18,66.13 L50.24,66.13 L50.31,66.13 L50.38,66.14 L50.45,66.14 L50.52,66.14 L50.58,66.14 L50.65,66.14 L50.72,66.14 L50.79,66.14 L50.86,66.14 L50.92,66.14 L50.99,66.14 L51.06,66.14 L51.13,66.14 L51.20,66.14 L51.26,66.15 L51.33,66.15 L51.40,66.15 L51.47,66.15 L51.54,66.15 L51.60,66.15 L51.67,66.15 L51.74,66.15 L51.81,66.15 L51.87,66.15 L51.94,66.15 L52.01,66.16 L52.08,66.16 L52.15,66.16 L52.21,66.16 L52.28,66.16 L52.35,66.16 L52.42,66.16 L52.49,66.16 L52.55,66.16 L52.62,66.17 L52.69,66.17 L52.76,66.17 L52.83,66.17 L52.89,66.17 L52.96,66.17 L53.03,66.17 L53.10,66.17 L53.17,66.17 L53.23,66.18 L53.30,66.18 L53.37,66.18 L53.44,66.18 L53.50,66.18 L53.51,66.18 L53.57,66.18 L53.64,66.18 L53.71,66.19 L53.78,66.19 L53.84,66.19 L53.91,66.19 L53.98,66.20 L54.05,66.20 L54.12,66.20 L54.18,66.21 L54.25,66.21 L54.32,66.22 L54.39,66.22 L54.46,66.22 L54.52,66.23 L54.59,66.24 L54.66,66.24 L54.73,66.25 L54.80,66.25 L54.86,66.26 L54.93,66.26 L55.00,66.27 L55.07,66.28 L55.14,66.29 L55.20,66.29 L55.27,66.30 L55.34,66.31 L55.41,66.31 L55.47,66.32 L55.54,66.33 L55.61,66.34 L55.68,66.35 L55.75,66.36 L55.81,66.36 L55.88,66.37 L55.95,66.38 L56.02,66.39 L56.09,66.40 L56.15,66.41 L56.22,66.42 L56.29,66.43 L56.36,66.44 L56.43,66.45 L56.49,66.46 L56.52,66.46 L56.56,66.47 L56.63,66.48 L56.70,66.50 L56.77,66.51 L56.83,66.53 L56.90,66.55 L56.97,66.56 L57.04,66.59 L57.10,66.61 L57.17,66.63 L57.24,66.65 L57.31,66.68 L57.38,66.71 L57.44,66.73 L57.51,66.76 L57.58,66.79 L57.65,66.82 L57.72,66.85 L57.78,66.88 L57.85,66.91 L57.92,66.95 L57.99,66.98 L58.06,67.01 L58.12,67.05 L58.19,67.08 L58.26,67.12 L58.33,67.16 L58.40,67.19 L58.46,67.23 L58.53,67.27 L58.60,67.30 L58.67,67.34 L58.74,67.38 L58.80,67.41 L58.87,67.45 L58.94,67.49 L59.01,67.53 L59.07,67.56 L59.14,67.60 L59.21,67.64 L59.28,67.67 L59.35,67.71 L59.41,67.74 L59.48,67.78 L59.55,67.81 L59.62,67.85 L59.69,67.88 L59.75,67.91 L59.82,67.95 L59.89,67.98 L59.96,68.01 L60.03,68.04 L60.09,68.07 L60.16,68.09 L60.23,68.12 L60.30,68.15 L60.37,68.17 L60.43,68.20 L60.50,68.22 L60.53,68.23 L60.57,68.24 L60.64,68.26 L60.70,68.29 L60.77,68.31 L60.84,68.33 L60.91,68.35 L60.98,68.37 L61.04,68.39 L61.11,68.42 L61.18,68.44 L61.25,68.46 L61.32,68.48 L61.38,68.50 L61.45,68.52 L61.52,68.54 L61.59,68.56 L61.66,68.58 L61.72,68.60 L61.79,68.62 L61.86,68.64 L61.93,68.66 L62.00,68.68 L62.06,68.70 L62.13,68.72 L62.20,68.74 L62.27,68.76 L62.33,68.78 L62.40,68.80 L62.47,68.82 L62.54,68.84 L62.61,68.86 L62.67,68.87 L62.74,68.89 L62.81,68.91 L62.88,68.93 L62.95,68.94 L63.01,68.96 L63.08,68.98 L63.15,68.99 L63.22,69.01 L63.29,69.03 L63.35,69.04 L63.42,69.06 L63.49,69.07 L63.56,69.09 L63.63,69.10 L63.69,69.12 L63.76,69.13 L63.83,69.14 L63.90,69.16 L63.97,69.17 L64.03,69.18 L64.10,69.19 L64.17,69.21 L64.24,69.22 L64.30,69.23 L64.37,69.24 L64.44,69.25 L64.51,69.26 L64.58,69.27 L64.64,69.28 L64.71,69.29 L64.76,69.29 L64.78,69.30 L64.85,69.30 L64.92,69.31 L64.98,69.32 L65.05,69.33 L65.12,69.34 L65.19,69.34 L65.26,69.35 L65.32,69.36 L65.39,69.37 L65.46,69.37 L65.53,69.38 L65.60,69.39 L65.66,69.39 L65.73,69.40 L65.80,69.41 L65.87,69.41 L65.93,69.42 L66.00,69.42 L66.07,69.43 L66.14,69.44 L66.21,69.44 L66.27,69.45 L66.34,69.45 L66.41,69.46 L66.48,69.46 L66.55,69.47 L66.61,69.47 L66.68,69.48 L66.75,69.48 L66.82,69.49 L66.89,69.49 L66.95,69.50 L67.02,69.50 L67.09,69.51 L67.16,69.51 L67.23,69.52 L67.29,69.52 L67.36,69.53 L67.43,69.53 L67.50,69.54 L67.56,69.54 L67.63,69.54 L67.70,69.55 L67.77,69.55 L67.84,69.56 L67.90,69.56 L67.97,69.57 L68.04,69.57 L68.11,69.57 L68.18,69.58 L68.24,69.58 L68.31,69.59 L68.38,69.59 L68.45,69.59 L68.52,69.60 L68.58,69.60 L68.65,69.61 L68.72,69.61 L68.79,69.62 L68.86,69.62 L68.92,69.62 L68.99,69.63 L69.06,69.63 L69.13,69.64 L69.20,69.64 L69.26,69.64 L69.33,69.65 L69.40,69.65 L69.47,69.66 L69.53,69.66 L69.60,69.67 L69.67,69.67 L69.74,69.67 L69.81,69.68 L69.87,69.68 L69.94,69.69 L70.01,69.69 L70.08,69.70 L70.15,69.70 L70.21,69.71 L70.28,69.71 L70.35,69.72 L70.42,69.72 L70.49,69.73 L70.55,69.73 L70.62,69.74 L70.69,69.74 L70.76,69.75 L70.83,69.75 L70.89,69.76 L70.96,69.77 L71.03,69.77 L71.10,69.78 L71.16,69.78 L71.23,69.79 L71.30,69.80 L71.37,69.80 L71.44,69.81 L71.50,69.81 L71.57,69.82 L71.59,69.82 L71.64,69.83 L71.71,69.84 L71.78,69.84 L71.84,69.85 L71.91,69.86 L71.98,69.86 L72.05,69.87 L72.12,69.88 L72.18,69.88 L72.25,69.89 L72.32,69.90 L72.39,69.90 L72.46,69.91 L72.52,69.92 L72.59,69.92 L72.66,69.93 L72.73,69.94 L72.79,69.94 L72.86,69.95 L72.93,69.96 L73.00,69.96 L73.07,69.97 L73.13,69.98 L73.20,69.99 L73.27,69.99 L73.34,70.00 L73.41,70.01 L73.47,70.02 L73.54,70.03 L73.61,70.03 L73.68,70.04 L73.75,70.05 L73.81,70.06 L73.88,70.07 L73.95,70.08 L74.02,70.08 L74.09,70.09 L74.15,70.10 L74.22,70.11 L74.29,70.12 L74.36,70.13 L74.43,70.14 L74.49,70.15 L74.56,70.16 L74.63,70.17 L74.70,70.18 L74.76,70.20 L74.83,70.21 L74.90,70.22 L74.97,70.23 L75.04,70.24 L75.10,70.25 L75.17,70.27 L75.24,70.28 L75.31,70.29 L75.38,70.31 L75.44,70.32 L75.51,70.33 L75.58,70.35 L75.61,70.35 L75.65,70.36 L75.72,70.38 L75.78,70.39 L75.85,70.41 L75.92,70.42 L75.99,70.44 L76.06,70.46 L76.12,70.48 L76.19,70.49 L76.26,70.51 L76.33,70.53 L76.39,70.56 L76.46,70.58 L76.53,70.60 L76.60,70.62 L76.67,70.65 L76.73,70.67 L76.80,70.70 L76.87,70.73 L76.94,70.76 L77.01,70.79 L77.07,70.82 L77.14,70.85 L77.21,70.89 L77.28,70.92 L77.35,70.96 L77.41,71.00 L77.48,71.04 L77.55,71.08 L77.62,71.12 L77.69,71.17 L77.75,71.21 L77.82,71.26 L77.89,71.31 L77.96,71.36 L78.02,71.41 L78.03,71.42 L78.09,71.48 L78.16,71.55 L78.23,71.63 L78.30,71.73 L78.36,71.84 L78.43,71.96 L78.50,72.09 L78.57,72.23 L78.64,72.38 L78.70,72.55 L78.77,72.73 L78.84,72.92 L78.91,73.12 L78.98,73.34 L79.04,73.57 L79.11,73.81 L79.18,74.06 L79.23,74.24 L79.25,74.33 L79.32,74.71 L79.38,75.21 L79.45,75.82 L79.52,76.51 L79.59,77.25 L79.66,78.03 L79.72,78.83 L79.79,79.62 L79.86,80.38 L79.93,81.09 L79.99,81.72 L80.03,82.03 L80.06,82.27 L80.13,82.82 L80.20,83.39 L80.27,83.96 L80.33,84.51 L80.40,85.05 L80.47,85.56 L80.54,86.03 L80.61,86.44 L80.67,86.80 L80.74,87.08 L80.81,87.28 L80.84,87.33 L80.88,87.40 L80.95,87.51 L81.01,87.62 L81.08,87.72 L81.15,87.82 L81.22,87.92 L81.29,88.00 L81.35,88.09 L81.42,88.17 L81.49,88.25 L81.56,88.32 L81.62,88.38 L81.69,88.45 L81.76,88.51 L81.83,88.56 L81.90,88.61 L81.96,88.66 L82.03,88.70 L82.10,88.74 L82.17,88.78 L82.24,88.81 L82.30,88.84 L82.37,88.86 L82.44,88.88 L82.51,88.90 L82.58,88.91 L82.64,88.92 L82.64,88.92 L82.71,88.93 L82.78,88.94 L82.85,88.95 L82.92,88.95 L82.98,88.96 L83.05,88.97 L83.12,88.97 L83.19,88.98 L83.26,88.99 L83.32,88.99 L83.39,89.00 L83.46,89.01 L83.53,89.01 L83.59,89.02 L83.66,89.02 L83.73,89.03 L83.80,89.03 L83.87,89.04 L83.93,89.04 L84.00,89.05 L84.07,89.05 L84.14,89.06 L84.21,89.06 L84.27,89.06 L84.34,89.07 L84.41,89.07 L84.48,89.07 L84.55,89.08 L84.61,89.08 L84.68,89.08 L84.75,89.08 L84.82,89.09 L84.89,89.09 L84.95,89.09 L85.02,89.09 L85.09,89.09 L85.16,89.10 L85.22,89.10 L85.29,89.10 L85.36,89.10 L85.43,89.10 L85.50,89.10 L85.56,89.10 L85.63,89.10 L85.66,89.10 L85.70,89.10 L85.77,89.10 L85.84,89.10 L85.90,89.10 L85.97,89.10 L86.04,89.10 L86.11,89.10 L86.18,89.10 L86.24,89.10 L86.31,89.10 L86.38,89.10 L86.45,89.10 L86.52,89.10 L86.58,89.10 L86.65,89.10 L86.72,89.10 L86.79,89.10 L86.85,89.10 L86.92,89.10 L86.99,89.10 L87.06,89.10 L87.13,89.10 L87.19,89.10 L87.26,89.10 L87.33,89.10 L87.40,89.10 L87.47,89.10 L87.53,89.10 L87.60,89.10 L87.67,89.10" fill="none" stroke="#4DBEEE" stroke-width="1.4" stroke-linejoin="round" stroke-linecap="butt" />
<path d="M84.66,89.35 L234.40,89.35" fill="none" stroke="#3E9CA6" stroke-width="1.4" stroke-linejoin="round" stroke-linecap="butt" />
<g fill="none"><path d="M300.7,11.6V235.5M540.8,11.6V235.5" stroke="#858585" stroke-width="1.2"/><path d="M300.10,11.6H541.40M300.10,235.5H541.40" stroke="#686868" stroke-width="0.9"/><path d="M340.94,235.5v-2.2M340.94,11.6v2.2M380.68,235.5v-2.2M380.68,11.6v2.2M420.42,235.5v-2.2M420.42,11.6v2.2M460.16,235.5v-2.2M460.16,11.6v2.2M499.90,235.5v-2.2M499.90,11.6v2.2M300.7,48.67h2.2M540.8,48.67h-2.2M300.7,86.00h2.2M540.8,86.00h-2.2M300.7,123.33h2.2M540.8,123.33h-2.2M300.7,160.66h2.2M540.8,160.66h-2.2M300.7,197.99h2.2M540.8,197.99h-2.2" stroke="#686868" stroke-width="0.9"/></g>
<path d="M301.20,86.00 L301.27,86.00 L301.34,86.00 L301.41,86.00 L301.47,86.00 L301.54,86.00 L301.61,86.00 L301.68,86.00 L301.75,86.00 L301.82,86.00 L301.89,86.00 L301.95,86.00 L302.02,86.00 L302.09,86.00 L302.16,86.00 L302.23,86.00 L302.30,86.00 L302.37,86.00 L302.44,86.00 L302.50,86.00 L302.57,86.00 L302.64,86.00 L302.71,86.00 L302.78,86.00 L302.85,86.00 L302.92,86.00 L302.98,86.00 L303.05,86.00 L303.09,86.00 L303.12,85.73 L303.19,84.14 L303.26,82.54 L303.29,82.27 L303.33,82.12 L303.40,81.90 L303.46,81.71 L303.53,81.54 L303.60,81.40 L303.67,81.29 L303.74,81.20 L303.81,81.14 L303.88,81.10 L303.94,81.08 L303.98,81.07 L304.01,81.07 L304.08,81.07 L304.15,81.07 L304.22,81.07 L304.29,81.06 L304.36,81.06 L304.43,81.06 L304.49,81.06 L304.56,81.06 L304.63,81.06 L304.70,81.06 L304.77,81.05 L304.84,81.05 L304.91,81.05 L304.97,81.05 L305.04,81.05 L305.11,81.05 L305.18,81.05 L305.25,81.04 L305.32,81.04 L305.39,81.04 L305.45,81.04 L305.52,81.04 L305.59,81.04 L305.66,81.04 L305.73,81.03 L305.80,81.03 L305.87,81.03 L305.93,81.03 L306.00,81.03 L306.07,81.03 L306.14,81.03 L306.21,81.03 L306.28,81.02 L306.35,81.02 L306.42,81.02 L306.48,81.02 L306.55,81.02 L306.62,81.02 L306.69,81.02 L306.76,81.02 L306.83,81.02 L306.90,81.01 L306.96,81.01 L307.03,81.01 L307.10,81.01 L307.17,81.01 L307.24,81.01 L307.31,81.01 L307.38,81.01 L307.44,81.01 L307.51,81.01 L307.58,81.00 L307.65,81.00 L307.72,81.00 L307.79,81.00 L307.86,81.00 L307.92,81.00 L307.99,81.00 L308.06,81.00 L308.13,81.00 L308.20,81.00 L308.27,81.00 L308.34,80.99 L308.41,80.99 L308.47,80.99 L308.54,80.99 L308.61,80.99 L308.68,80.99 L308.75,80.99 L308.82,80.99 L308.89,80.99 L308.95,80.99 L309.02,80.99 L309.09,80.99 L309.16,80.99 L309.23,80.98 L309.30,80.98 L309.37,80.98 L309.43,80.98 L309.50,80.98 L309.57,80.98 L309.64,80.98 L309.71,80.98 L309.78,80.98 L309.85,80.98 L309.91,80.98 L309.98,80.98 L310.05,80.98 L310.12,80.98 L310.19,80.98 L310.26,80.98 L310.33,80.98 L310.40,80.97 L310.46,80.97 L310.53,80.97 L310.60,80.97 L310.67,80.97 L310.74,80.97 L310.81,80.97 L310.88,80.97 L310.94,80.97 L311.01,80.97 L311.08,80.97 L311.15,80.97 L311.22,80.97 L311.29,80.97 L311.36,80.97 L311.42,80.97 L311.49,80.97 L311.56,80.97 L311.63,80.97 L311.70,80.97 L311.77,80.97 L311.84,80.97 L311.90,80.96 L311.97,80.96 L312.04,80.96 L312.11,80.96 L312.18,80.96 L312.25,80.96 L312.32,80.96 L312.39,80.96 L312.45,80.96 L312.52,80.96 L312.59,80.96 L312.66,80.96 L312.73,80.96 L312.80,80.96 L312.87,80.96 L312.93,80.96 L313.00,80.96 L313.07,80.96 L313.14,80.96 L313.21,80.96 L313.28,80.96 L313.35,80.96 L313.41,80.96 L313.48,80.96 L313.55,80.96 L313.62,80.96 L313.69,80.96 L313.76,80.96 L313.83,80.96 L313.89,80.96 L313.96,80.96 L314.03,80.96 L314.10,80.96 L314.17,80.95 L314.24,80.95 L314.31,80.95 L314.38,80.95 L314.44,80.95 L314.51,80.95 L314.58,80.95 L314.65,80.95 L314.72,80.95 L314.79,80.95 L314.86,80.95 L314.92,80.95 L314.99,80.95 L315.06,80.95 L315.13,80.95 L315.20,80.95 L315.27,80.95 L315.34,80.95 L315.40,80.95 L315.47,80.95 L315.54,80.95 L315.61,80.95 L315.68,80.95 L315.75,80.95 L315.82,80.95 L315.88,80.95 L315.95,80.95 L316.02,80.95 L316.09,80.95 L316.16,80.95 L316.23,80.95 L316.30,80.95 L316.37,80.95 L316.43,80.95 L316.50,80.95 L316.57,80.95 L316.64,80.95 L316.71,80.95 L316.78,80.95 L316.85,80.95 L316.91,80.95 L316.98,80.95 L317.05,80.94 L317.12,80.94 L317.19,80.94 L317.26,80.94 L317.33,80.94 L317.39,80.94 L317.46,80.94 L317.53,80.94 L317.60,80.94 L317.67,80.94 L317.74,80.94 L317.81,80.94 L317.87,80.94 L317.94,80.94 L318.01,80.94 L318.08,80.94 L318.15,80.94 L318.22,80.94 L318.29,80.94 L318.36,80.94 L318.42,80.94 L318.49,80.94 L318.56,80.94 L318.63,80.94 L318.70,80.94 L318.77,80.94 L318.84,80.94 L318.90,80.94 L318.97,80.94 L319.04,80.94 L319.11,80.94 L319.18,80.94 L319.25,80.94 L319.32,80.93 L319.38,80.93 L319.45,80.93 L319.52,80.93 L319.59,80.93 L319.66,80.93 L319.73,80.93 L319.80,80.93 L319.86,80.93 L319.93,80.93 L320.00,80.93 L320.07,80.93 L320.14,80.93 L320.21,80.93 L320.28,80.93 L320.35,80.93 L320.41,80.93 L320.48,80.93 L320.55,80.93 L320.62,80.93 L320.69,80.93 L320.76,80.93 L320.83,80.93 L320.89,80.92 L320.96,80.92 L321.03,80.92 L321.07,80.92 L321.10,80.92 L321.17,80.92 L321.24,80.92 L321.31,80.92 L321.37,80.92 L321.44,80.92 L321.51,80.92 L321.58,80.92 L321.65,80.92 L321.72,80.92 L321.79,80.92 L321.85,80.92 L321.92,80.92 L321.99,80.92 L322.06,80.92 L322.13,80.91 L322.20,80.91 L322.27,80.91 L322.33,80.91 L322.40,80.91 L322.47,80.91 L322.54,80.91 L322.61,80.91 L322.68,80.91 L322.75,80.91 L322.82,80.91 L322.88,80.91 L322.95,80.91 L323.02,80.91 L323.09,80.91 L323.16,80.91 L323.23,80.91 L323.30,80.91 L323.36,80.91 L323.43,80.91 L323.50,80.90 L323.57,80.90 L323.64,80.90 L323.71,80.90 L323.78,80.90 L323.84,80.90 L323.91,80.90 L323.98,80.90 L324.05,80.90 L324.12,80.90 L324.19,80.90 L324.26,80.90 L324.32,80.90 L324.39,80.90 L324.46,80.90 L324.53,80.90 L324.60,80.90 L324.67,80.90 L324.74,80.90 L324.81,80.90 L324.87,80.90 L324.94,80.89 L325.01,80.89 L325.08,80.89 L325.15,80.89 L325.22,80.89 L325.29,80.89 L325.35,80.89 L325.42,80.89 L325.49,80.89 L325.56,80.89 L325.63,80.89 L325.70,80.89 L325.77,80.89 L325.83,80.89 L325.90,80.89 L325.97,80.89 L326.04,80.89 L326.11,80.89 L326.18,80.89 L326.25,80.89 L326.31,80.89 L326.38,80.89 L326.45,80.89 L326.52,80.88 L326.59,80.88 L326.66,80.88 L326.73,80.88 L326.80,80.88 L326.86,80.88 L326.93,80.88 L327.00,80.88 L327.07,80.88 L327.14,80.88 L327.21,80.88 L327.28,80.88 L327.34,80.88 L327.41,80.88 L327.48,80.88 L327.55,80.88 L327.62,80.88 L327.69,80.88 L327.76,80.88 L327.82,80.88 L327.89,80.88 L327.96,80.88 L328.03,80.88 L328.10,80.87 L328.17,80.87 L328.24,80.87 L328.30,80.87 L328.37,80.87 L328.44,80.87 L328.51,80.87 L328.58,80.87 L328.65,80.87 L328.72,80.87 L328.79,80.87 L328.85,80.87 L328.92,80.87 L328.99,80.87 L329.06,80.87 L329.13,80.87 L329.20,80.87 L329.27,80.87 L329.33,80.87 L329.40,80.87 L329.47,80.87 L329.54,80.87 L329.61,80.87 L329.68,80.87 L329.75,80.86 L329.81,80.86 L329.88,80.86 L329.95,80.86 L330.02,80.86 L330.09,80.86 L330.16,80.86 L330.23,80.86 L330.29,80.86 L330.36,80.86 L330.43,80.86 L330.50,80.86 L330.57,80.86 L330.64,80.86 L330.71,80.86 L330.78,80.86 L330.84,80.86 L330.91,80.86 L330.98,80.86 L331.05,80.86 L331.12,80.86 L331.19,80.86 L331.26,80.86 L331.32,80.85 L331.39,80.85 L331.46,80.85 L331.53,80.85 L331.60,80.85 L331.67,80.85 L331.74,80.85 L331.80,80.85 L331.87,80.85 L331.94,80.85 L332.01,80.85 L332.08,80.85 L332.15,80.85 L332.22,80.85 L332.28,80.85 L332.35,80.85 L332.42,80.85 L332.49,80.85 L332.56,80.85 L332.63,80.85 L332.70,80.85 L332.77,80.85 L332.83,80.84 L332.90,80.84 L332.97,80.84 L333.04,80.84 L333.11,80.84 L333.18,80.84 L333.25,80.84 L333.31,80.84 L333.38,80.84 L333.45,80.84 L333.52,80.84 L333.59,80.84 L333.66,80.84 L333.73,80.84 L333.79,80.84 L333.86,80.84 L333.93,80.84 L334.00,80.84 L334.07,80.84 L334.14,80.84 L334.21,80.83 L334.27,80.83 L334.34,80.83 L334.41,80.83 L334.48,80.83 L334.55,80.83 L334.62,80.83 L334.69,80.83 L334.76,80.83 L334.82,80.83 L334.89,80.83 L334.96,80.83 L335.03,80.83 L335.10,80.83 L335.17,80.83 L335.24,80.83 L335.30,80.83 L335.37,80.83 L335.44,80.83 L335.51,80.83 L335.58,80.82 L335.65,80.82 L335.72,80.82 L335.78,80.82 L335.85,80.82 L335.92,80.82 L335.99,80.82 L336.06,80.82 L336.13,80.82 L336.20,80.82 L336.26,80.82 L336.33,80.82 L336.40,80.82 L336.47,80.82 L336.54,80.82 L336.61,80.82 L336.68,80.82 L336.75,80.82 L336.81,80.81 L336.88,80.81 L336.95,80.81 L337.02,80.81 L337.09,80.81 L337.16,80.81 L337.23,80.81 L337.29,80.81 L337.36,80.81 L337.43,80.81 L337.50,80.81 L337.57,80.81 L337.64,80.81 L337.71,80.81 L337.77,80.81 L337.84,80.81 L337.91,80.80 L337.98,80.80 L338.05,80.80 L338.12,80.80 L338.19,80.80 L338.25,80.80 L338.32,80.80 L338.39,80.80 L338.46,80.80 L338.53,80.80 L338.60,80.80 L338.67,80.80 L338.74,80.80 L338.80,80.80 L338.87,80.80 L338.94,80.79 L339.01,80.79 L339.08,80.79 L339.15,80.79 L339.22,80.79 L339.28,80.79 L339.35,80.79 L339.42,80.79 L339.49,80.79 L339.56,80.79 L339.63,80.79 L339.70,80.79 L339.76,80.79 L339.83,80.79 L339.90,80.79 L339.97,80.78 L340.04,80.78 L340.11,80.78 L340.18,80.78 L340.24,80.78 L340.31,80.78 L340.38,80.78 L340.45,80.78 L340.52,80.78 L340.59,80.78 L340.66,80.78 L340.73,80.78 L340.79,80.78 L340.86,80.77 L340.93,80.77 L340.94,80.77 L341.00,80.77 L341.07,80.77 L341.14,80.77 L341.21,80.77 L341.27,80.77 L341.34,80.77 L341.41,80.77 L341.48,80.77 L341.55,80.77 L341.62,80.77 L341.69,80.77 L341.75,80.76 L341.82,80.76 L341.89,80.76 L341.96,80.76 L342.03,80.76 L342.10,80.76 L342.17,80.76 L342.23,80.76 L342.30,80.76 L342.37,80.76 L342.44,80.76 L342.51,80.76 L342.58,80.75 L342.65,80.75 L342.72,80.75 L342.78,80.75 L342.85,80.75 L342.92,80.75 L342.99,80.75 L343.06,80.75 L343.13,80.75 L343.20,80.75 L343.26,80.75 L343.33,80.75 L343.40,80.74 L343.47,80.74 L343.54,80.74 L343.61,80.74 L343.68,80.74 L343.74,80.74 L343.81,80.74 L343.88,80.74 L343.95,80.74 L344.02,80.74 L344.09,80.74 L344.16,80.73 L344.22,80.73 L344.29,80.73 L344.36,80.73 L344.43,80.73 L344.50,80.73 L344.57,80.73 L344.64,80.73 L344.71,80.73 L344.77,80.73 L344.84,80.72 L344.91,80.72 L344.98,80.72 L345.05,80.72 L345.12,80.72 L345.19,80.72 L345.25,80.72 L345.32,80.72 L345.39,80.72 L345.46,80.72 L345.53,80.71 L345.60,80.71 L345.67,80.71 L345.73,80.71 L345.80,80.71 L345.87,80.71 L345.94,80.71 L346.01,80.71 L346.08,80.71 L346.15,80.70 L346.21,80.70 L346.28,80.70 L346.35,80.70 L346.42,80.70 L346.49,80.70 L346.56,80.70 L346.63,80.70 L346.70,80.69 L346.76,80.69 L346.83,80.69 L346.90,80.69 L346.97,80.69 L347.04,80.69 L347.11,80.69 L347.18,80.69 L347.24,80.68 L347.31,80.68 L347.38,80.68 L347.45,80.68 L347.52,80.68 L347.59,80.68 L347.66,80.68 L347.72,80.68 L347.79,80.67 L347.86,80.67 L347.93,80.67 L348.00,80.67 L348.07,80.67 L348.14,80.67 L348.20,80.67 L348.27,80.66 L348.34,80.66 L348.41,80.66 L348.48,80.66 L348.55,80.66 L348.62,80.66 L348.69,80.66 L348.75,80.65 L348.82,80.65 L348.89,80.65 L348.96,80.65 L349.03,80.65 L349.10,80.65 L349.17,80.65 L349.23,80.64 L349.30,80.64 L349.37,80.64 L349.44,80.64 L349.51,80.64 L349.58,80.64 L349.65,80.63 L349.71,80.63 L349.78,80.63 L349.85,80.63 L349.92,80.63 L349.99,80.63 L350.06,80.62 L350.13,80.62 L350.19,80.62 L350.26,80.62 L350.33,80.62 L350.40,80.61 L350.47,80.61 L350.54,80.61 L350.61,80.61 L350.68,80.61 L350.74,80.61 L350.81,80.60 L350.88,80.60 L350.95,80.60 L351.02,80.60 L351.09,80.60 L351.16,80.59 L351.22,80.59 L351.29,80.59 L351.36,80.59 L351.43,80.59 L351.50,80.58 L351.57,80.58 L351.64,80.58 L351.70,80.58 L351.77,80.58 L351.84,80.57 L351.91,80.57 L351.98,80.57 L352.05,80.57 L352.12,80.57 L352.18,80.56 L352.25,80.56 L352.32,80.56 L352.39,80.56 L352.46,80.55 L352.53,80.55 L352.60,80.55 L352.67,80.55 L352.73,80.55 L352.80,80.54 L352.87,80.54 L352.94,80.54 L353.01,80.54 L353.08,80.53 L353.15,80.53 L353.21,80.53 L353.28,80.53 L353.35,80.52 L353.42,80.52 L353.49,80.52 L353.56,80.52 L353.63,80.51 L353.66,80.51 L353.69,80.51 L353.76,80.51 L353.83,80.51 L353.90,80.50 L353.97,80.50 L354.04,80.50 L354.11,80.49 L354.17,80.49 L354.24,80.49 L354.31,80.48 L354.38,80.48 L354.45,80.48 L354.52,80.47 L354.59,80.47 L354.66,80.46 L354.72,80.46 L354.79,80.46 L354.86,80.45 L354.93,80.45 L355.00,80.44 L355.07,80.44 L355.14,80.43 L355.20,80.43 L355.27,80.42 L355.34,80.42 L355.41,80.41 L355.48,80.41 L355.55,80.40 L355.62,80.40 L355.68,80.39 L355.75,80.39 L355.82,80.38 L355.89,80.38 L355.96,80.37 L356.03,80.36 L356.10,80.36 L356.16,80.35 L356.23,80.34 L356.30,80.34 L356.37,80.33 L356.44,80.32 L356.51,80.32 L356.58,80.31 L356.65,80.30 L356.71,80.30 L356.78,80.29 L356.85,80.28 L356.92,80.28 L356.99,80.27 L357.06,80.26 L357.13,80.25 L357.19,80.24 L357.26,80.24 L357.33,80.23 L357.40,80.22 L357.47,80.21 L357.54,80.20 L357.61,80.20 L357.67,80.19 L357.74,80.18 L357.81,80.17 L357.88,80.16 L357.95,80.15 L358.02,80.14 L358.09,80.13 L358.15,80.12 L358.22,80.11 L358.29,80.10 L358.36,80.09 L358.43,80.09 L358.50,80.08 L358.57,80.07 L358.64,80.06 L358.70,80.05 L358.77,80.03 L358.82,80.03 L358.84,80.02 L358.91,80.01 L358.98,80.00 L359.05,79.99 L359.12,79.98 L359.18,79.96 L359.25,79.95 L359.32,79.94 L359.39,79.92 L359.46,79.90 L359.53,79.89 L359.60,79.87 L359.66,79.85 L359.73,79.84 L359.80,79.82 L359.87,79.80 L359.94,79.78 L360.01,79.76 L360.08,79.74 L360.14,79.72 L360.21,79.70 L360.28,79.68 L360.35,79.65 L360.42,79.63 L360.49,79.61 L360.56,79.58 L360.63,79.56 L360.69,79.54 L360.76,79.51 L360.83,79.49 L360.90,79.46 L360.97,79.44 L361.04,79.41 L361.11,79.38 L361.17,79.36 L361.24,79.33 L361.31,79.30 L361.38,79.27 L361.45,79.24 L361.52,79.22 L361.59,79.19 L361.65,79.16 L361.72,79.13 L361.79,79.10 L361.80,79.09 L361.86,79.07 L361.93,79.04 L362.00,79.01 L362.07,78.97 L362.13,78.94 L362.20,78.90 L362.27,78.87 L362.34,78.83 L362.41,78.79 L362.48,78.75 L362.55,78.71 L362.62,78.67 L362.68,78.63 L362.75,78.59 L362.82,78.54 L362.89,78.50 L362.96,78.45 L363.03,78.40 L363.10,78.35 L363.16,78.30 L363.23,78.25 L363.30,78.20 L363.37,78.14 L363.44,78.09 L363.51,78.03 L363.58,77.97 L363.64,77.92 L363.71,77.86 L363.78,77.80 L363.79,77.79 L363.85,77.73 L363.92,77.67 L363.99,77.60 L364.06,77.52 L364.12,77.45 L364.19,77.37 L364.26,77.29 L364.33,77.20 L364.40,77.12 L364.47,77.03 L364.54,76.93 L364.60,76.84 L364.67,76.74 L364.74,76.64 L364.81,76.53 L364.88,76.42 L364.95,76.31 L365.02,76.20 L365.09,76.09 L365.15,75.97 L365.18,75.92 L365.22,75.85 L365.29,75.74 L365.36,75.62 L365.43,75.51 L365.50,75.39 L365.57,75.26 L365.63,75.11 L365.70,74.95 L365.77,74.77 L365.84,74.56 L365.91,74.32 L365.98,74.05 L365.98,74.05 L366.05,73.69 L366.11,73.16 L366.18,72.43 L366.25,71.45 L366.27,71.07 L366.32,69.15 L366.39,64.22 L366.46,60.49 L366.47,60.24 L366.53,59.92 L366.59,59.58 L366.66,59.31 L366.73,59.11 L366.80,58.96 L366.87,58.85 L366.94,58.77 L366.97,58.75 L367.01,58.72 L367.08,58.68 L367.14,58.63 L367.21,58.59 L367.28,58.55 L367.35,58.51 L367.42,58.48 L367.49,58.45 L367.56,58.42 L367.62,58.39 L367.69,58.36 L367.76,58.34 L367.83,58.32 L367.90,58.31 L367.97,58.29 L368.04,58.28 L368.10,58.27 L368.17,58.26 L368.24,58.26 L368.31,58.25 L368.36,58.25 L368.38,58.25 L368.45,58.25 L368.52,58.25 L368.58,58.25 L368.65,58.25 L368.72,58.25 L368.79,58.25 L368.86,58.25 L368.93,58.25 L369.00,58.25 L369.07,58.25 L369.13,58.25 L369.20,58.25 L369.27,58.25 L369.34,58.25 L369.41,58.25 L369.48,58.25 L369.55,58.25 L369.61,58.25 L369.68,58.25 L369.75,58.25" fill="none" stroke="#D95319" stroke-width="1.4" stroke-linejoin="round" stroke-linecap="butt" />
<path d="M301.20,58.25 L366.47,58.25" fill="none" stroke="#A09A48" stroke-width="1.4" stroke-linejoin="round" stroke-linecap="butt" />
<path d="M368.76,58.25 L499.90,58.25" fill="none" stroke="#DF8C2A" stroke-width="1.4" stroke-linejoin="round" stroke-linecap="butt" />
<path d="M301.20,86.00 L380.68,86.00" fill="none" stroke="#7E2F8E" stroke-width="1.4" stroke-linejoin="round" stroke-linecap="butt" />
<path d="M301.20,86.00 L301.29,86.00 L301.39,86.00 L301.48,86.00 L301.57,86.00 L301.67,86.00 L301.76,86.00 L301.85,86.00 L301.95,86.00 L302.04,86.00 L302.13,86.00 L302.23,86.00 L302.32,86.00 L302.42,86.00 L302.51,86.00 L302.60,86.00 L302.70,86.00 L302.79,86.00 L302.88,86.00 L302.98,86.00 L303.03,86.00 L303.07,84.49 L303.16,74.18 L303.19,71.07 L303.26,55.73 L303.35,39.34 L303.35,39.24 L303.44,37.49 L303.54,36.42 L303.63,35.82 L303.68,35.60 L303.72,35.47 L303.82,35.19 L303.91,34.94 L304.00,34.73 L304.10,34.54 L304.19,34.38 L304.28,34.24 L304.38,34.12 L304.47,34.01 L304.57,33.92 L304.66,33.83 L304.75,33.76 L304.78,33.74 L304.85,33.68 L304.94,33.61 L305.03,33.55 L305.13,33.48 L305.22,33.42 L305.31,33.36 L305.41,33.31 L305.50,33.25 L305.59,33.20 L305.69,33.16 L305.78,33.11 L305.87,33.07 L305.97,33.02 L306.06,32.98 L306.15,32.95 L306.25,32.91 L306.34,32.87 L306.44,32.84 L306.53,32.81 L306.62,32.78 L306.72,32.75 L306.81,32.72 L306.90,32.69 L307.00,32.66 L307.09,32.64 L307.16,32.62 L307.18,32.61 L307.28,32.59 L307.37,32.56 L307.46,32.54 L307.56,32.51 L307.65,32.49 L307.74,32.47 L307.84,32.44 L307.93,32.42 L308.02,32.40 L308.12,32.38 L308.21,32.36 L308.30,32.34 L308.40,32.32 L308.49,32.30 L308.59,32.28 L308.68,32.26 L308.77,32.24 L308.87,32.23 L308.96,32.21 L309.05,32.19 L309.15,32.18 L309.24,32.16 L309.33,32.15 L309.43,32.14 L309.52,32.12 L309.61,32.11 L309.71,32.10 L309.80,32.09 L309.89,32.08 L309.99,32.07 L310.08,32.06 L310.14,32.06 L310.17,32.06 L310.27,32.05 L310.36,32.04 L310.45,32.03 L310.55,32.03 L310.64,32.02 L310.74,32.01 L310.83,32.01 L310.92,32.00 L311.02,31.99 L311.11,31.99 L311.20,31.98 L311.30,31.98 L311.39,31.97 L311.48,31.96 L311.58,31.96 L311.67,31.95 L311.76,31.95 L311.86,31.94 L311.95,31.94 L312.04,31.93 L312.14,31.93 L312.23,31.92 L312.32,31.92 L312.42,31.91 L312.51,31.91 L312.60,31.90 L312.70,31.90 L312.79,31.90 L312.89,31.89 L312.98,31.89 L313.07,31.89 L313.17,31.89 L313.26,31.88 L313.35,31.88 L313.45,31.88 L313.54,31.88 L313.63,31.88 L313.73,31.87 L313.82,31.87 L313.91,31.87 L314.01,31.87 L314.10,31.87 L314.12,31.87 L314.19,31.87 L314.29,31.87 L314.38,31.87 L314.47,31.87 L314.57,31.87 L314.66,31.88 L314.75,31.88 L314.85,31.88 L314.94,31.88 L315.04,31.88 L315.13,31.88 L315.22,31.89 L315.32,31.89 L315.41,31.89 L315.50,31.89 L315.60,31.90 L315.69,31.90 L315.78,31.90 L315.88,31.91 L315.97,31.91 L316.06,31.92 L316.16,31.92 L316.25,31.92 L316.34,31.93 L316.44,31.93 L316.53,31.94 L316.62,31.94 L316.72,31.95 L316.81,31.95 L316.91,31.96 L317.00,31.96 L317.09,31.97 L317.19,31.97 L317.28,31.98 L317.37,31.98 L317.47,31.99 L317.56,31.99 L317.65,32.00 L317.75,32.01 L317.84,32.01 L317.93,32.02 L318.03,32.02 L318.12,32.03 L318.21,32.04 L318.31,32.04 L318.40,32.05 L318.49,32.06 L318.59,32.06 L318.68,32.07 L318.77,32.08 L318.87,32.08 L318.96,32.09 L319.06,32.10 L319.15,32.10 L319.24,32.11 L319.34,32.12 L319.43,32.12 L319.52,32.13 L319.62,32.14 L319.71,32.14 L319.80,32.15 L319.90,32.16 L319.99,32.17 L320.08,32.17 L320.18,32.18 L320.27,32.19 L320.36,32.19 L320.46,32.20 L320.55,32.21 L320.64,32.21 L320.74,32.22 L320.83,32.23 L320.92,32.23 L321.02,32.24 L321.07,32.24 L321.11,32.25 L321.21,32.25 L321.30,32.26 L321.39,32.27 L321.49,32.28 L321.58,32.28 L321.67,32.29 L321.77,32.30 L321.86,32.30 L321.95,32.31 L322.05,32.32 L322.14,32.33 L322.23,32.34 L322.33,32.34 L322.42,32.35 L322.51,32.36 L322.61,32.37 L322.70,32.38 L322.79,32.39 L322.89,32.39 L322.98,32.40 L323.07,32.41 L323.17,32.42 L323.26,32.43 L323.36,32.44 L323.45,32.45 L323.54,32.46 L323.64,32.47 L323.73,32.48 L323.82,32.48 L323.92,32.49 L324.01,32.50 L324.10,32.51 L324.20,32.52 L324.29,32.53 L324.38,32.54 L324.48,32.55 L324.57,32.56 L324.66,32.57 L324.76,32.58 L324.85,32.59 L324.94,32.60 L325.04,32.61 L325.13,32.62 L325.22,32.64 L325.32,32.65 L325.41,32.66 L325.51,32.67 L325.60,32.68 L325.69,32.69 L325.79,32.70 L325.88,32.71 L325.97,32.72 L326.07,32.73 L326.16,32.74 L326.25,32.75 L326.35,32.77 L326.44,32.78 L326.53,32.79 L326.63,32.80 L326.72,32.81 L326.81,32.82 L326.91,32.83 L327.00,32.85 L327.09,32.86 L327.19,32.87 L327.28,32.88 L327.38,32.89 L327.47,32.90 L327.56,32.91 L327.66,32.93 L327.75,32.94 L327.84,32.95 L327.94,32.96 L328.03,32.97 L328.12,32.99 L328.22,33.00 L328.31,33.01 L328.40,33.02 L328.50,33.03 L328.59,33.05 L328.68,33.06 L328.78,33.07 L328.87,33.08 L328.96,33.09 L329.06,33.11 L329.15,33.12 L329.24,33.13 L329.34,33.14 L329.43,33.15 L329.53,33.17 L329.61,33.18 L329.62,33.18 L329.71,33.19 L329.81,33.20 L329.90,33.22 L329.99,33.23 L330.09,33.24 L330.18,33.25 L330.27,33.27 L330.37,33.28 L330.46,33.29 L330.55,33.30 L330.65,33.32 L330.74,33.33 L330.83,33.34 L330.93,33.36 L331.02,33.37 L331.11,33.38 L331.21,33.40 L331.30,33.41 L331.39,33.43 L331.49,33.44 L331.58,33.45 L331.68,33.47 L331.77,33.48 L331.86,33.50 L331.96,33.51 L332.05,33.52 L332.14,33.54 L332.24,33.55 L332.33,33.57 L332.42,33.58 L332.52,33.60 L332.61,33.61 L332.70,33.62 L332.80,33.64 L332.89,33.65 L332.98,33.67 L333.08,33.68 L333.17,33.70 L333.26,33.71 L333.36,33.73 L333.45,33.74 L333.54,33.76 L333.64,33.77 L333.73,33.79 L333.83,33.81 L333.92,33.82 L334.01,33.84 L334.11,33.85 L334.20,33.87 L334.29,33.88 L334.39,33.90 L334.48,33.91 L334.57,33.93 L334.67,33.95 L334.76,33.96 L334.85,33.98 L334.95,33.99 L335.04,34.01 L335.13,34.02 L335.23,34.04 L335.32,34.06 L335.41,34.07 L335.51,34.09 L335.60,34.10 L335.70,34.12 L335.79,34.14 L335.88,34.15 L335.98,34.17 L336.07,34.19 L336.16,34.20 L336.26,34.22 L336.35,34.23 L336.44,34.25 L336.54,34.27 L336.63,34.28 L336.72,34.30 L336.82,34.32 L336.91,34.33 L337.00,34.35 L337.10,34.37 L337.19,34.38 L337.28,34.40 L337.38,34.42 L337.47,34.43 L337.56,34.45 L337.66,34.46 L337.75,34.48 L337.85,34.50 L337.94,34.51 L338.03,34.53 L338.13,34.55 L338.22,34.56 L338.31,34.58 L338.41,34.60 L338.50,34.61 L338.59,34.63 L338.69,34.65 L338.78,34.66 L338.87,34.68 L338.97,34.70 L339.06,34.71 L339.15,34.73 L339.25,34.75 L339.34,34.76 L339.43,34.78 L339.53,34.80 L339.62,34.81 L339.71,34.83 L339.81,34.85 L339.90,34.86 L340.00,34.88 L340.09,34.90 L340.18,34.91 L340.28,34.93 L340.37,34.94 L340.46,34.96 L340.56,34.98 L340.65,34.99 L340.74,35.01 L340.84,35.03 L340.93,35.04 L340.94,35.04 L341.02,35.06 L341.12,35.08 L341.21,35.09 L341.30,35.11 L341.40,35.12 L341.49,35.14 L341.58,35.16 L341.68,35.17 L341.77,35.19 L341.86,35.20 L341.96,35.22 L342.05,35.23 L342.15,35.25 L342.24,35.26 L342.33,35.28 L342.43,35.30 L342.52,35.31 L342.61,35.33 L342.71,35.34 L342.80,35.36 L342.89,35.37 L342.99,35.39 L343.08,35.40 L343.17,35.42 L343.27,35.43 L343.36,35.45 L343.45,35.46 L343.55,35.48 L343.64,35.49 L343.73,35.51 L343.83,35.52 L343.92,35.54 L344.01,35.55 L344.11,35.57 L344.20,35.58 L344.30,35.60 L344.39,35.61 L344.48,35.63 L344.58,35.64 L344.67,35.66 L344.76,35.67 L344.86,35.69 L344.95,35.70 L345.04,35.72 L345.14,35.73 L345.23,35.75 L345.32,35.77 L345.42,35.78 L345.51,35.80 L345.60,35.81 L345.70,35.83 L345.79,35.84 L345.88,35.86 L345.98,35.87 L346.07,35.89 L346.17,35.90 L346.26,35.92 L346.35,35.94 L346.45,35.95 L346.54,35.97 L346.63,35.98 L346.73,36.00 L346.82,36.02 L346.91,36.03 L347.01,36.05 L347.10,36.06 L347.19,36.08 L347.29,36.10 L347.38,36.11 L347.47,36.13 L347.57,36.15 L347.66,36.16 L347.75,36.18 L347.85,36.20 L347.94,36.21 L348.03,36.23 L348.13,36.25 L348.22,36.27 L348.32,36.28 L348.41,36.30 L348.50,36.32 L348.60,36.34 L348.69,36.36 L348.78,36.37 L348.88,36.39 L348.97,36.41 L349.06,36.43 L349.16,36.45 L349.25,36.47 L349.34,36.48 L349.44,36.50 L349.53,36.52 L349.62,36.54 L349.72,36.56 L349.81,36.58 L349.90,36.60 L350.00,36.62 L350.09,36.64 L350.18,36.66 L350.28,36.68 L350.37,36.70 L350.47,36.72 L350.56,36.74 L350.65,36.76 L350.75,36.78 L350.84,36.80 L350.93,36.82 L351.03,36.85 L351.12,36.87 L351.21,36.89 L351.31,36.91 L351.40,36.93 L351.49,36.96 L351.59,36.98 L351.68,37.00 L351.77,37.02 L351.87,37.05 L351.96,37.07 L352.05,37.09 L352.07,37.10 L352.15,37.12 L352.24,37.14 L352.33,37.17 L352.43,37.19 L352.52,37.22 L352.62,37.24 L352.71,37.27 L352.80,37.30 L352.90,37.32 L352.99,37.35 L353.08,37.38 L353.18,37.41 L353.27,37.44 L353.36,37.47 L353.46,37.50 L353.55,37.53 L353.64,37.56 L353.74,37.59 L353.83,37.63 L353.92,37.66 L354.02,37.69 L354.11,37.73 L354.20,37.77 L354.30,37.80 L354.39,37.84 L354.49,37.88 L354.58,37.92 L354.67,37.95 L354.77,37.99 L354.85,38.03 L354.86,38.04 L354.95,38.08 L355.05,38.12 L355.14,38.16 L355.23,38.21 L355.33,38.25 L355.42,38.30 L355.51,38.35 L355.61,38.40 L355.70,38.45 L355.79,38.50 L355.89,38.56 L355.98,38.61 L356.07,38.67 L356.17,38.73 L356.26,38.79 L356.35,38.85 L356.45,38.91 L356.54,38.98 L356.64,39.04 L356.73,39.11 L356.82,39.18 L356.92,39.26 L357.01,39.33 L357.10,39.41 L357.20,39.49 L357.23,39.52 L357.29,39.57 L357.38,39.66 L357.48,39.76 L357.57,39.86 L357.66,39.96 L357.76,40.07 L357.85,40.19 L357.94,40.31 L358.04,40.43 L358.13,40.56 L358.22,40.69 L358.32,40.83 L358.41,40.97 L358.50,41.12 L358.60,41.26 L358.69,41.42 L358.79,41.57 L358.88,41.73 L358.97,41.89 L359.07,42.05 L359.16,42.21 L359.22,42.32 L359.25,42.38 L359.35,42.56 L359.44,42.74 L359.53,42.93 L359.63,43.13 L359.72,43.33 L359.81,43.55 L359.91,43.77 L360.00,43.99 L360.09,44.22 L360.19,44.45 L360.28,44.69 L360.37,44.94 L360.47,45.18 L360.56,45.43 L360.65,45.68 L360.75,45.94 L360.84,46.20 L360.94,46.45 L361.03,46.71 L361.12,46.97 L361.22,47.23 L361.31,47.49 L361.40,47.74 L361.50,48.00 L361.59,48.26 L361.60,48.30 L361.68,48.51 L361.78,48.77 L361.87,49.03 L361.96,49.29 L362.06,49.56 L362.15,49.83 L362.24,50.10 L362.34,50.37 L362.43,50.65 L362.52,50.92 L362.62,51.20 L362.71,51.48 L362.80,51.76 L362.90,52.04 L362.99,52.32 L363.09,52.60 L363.18,52.88 L363.27,53.16 L363.37,53.44 L363.39,53.52 L363.46,53.72 L363.55,53.99 L363.65,54.26 L363.74,54.52 L363.83,54.78 L363.93,55.04 L364.02,55.30 L364.11,55.56 L364.21,55.83 L364.30,56.10 L364.39,56.38 L364.49,56.66 L364.58,56.96 L364.67,57.27 L364.77,57.59 L364.86,57.92 L364.96,58.27 L364.98,58.38 L365.05,58.63 L365.14,59.00 L365.24,59.38 L365.33,59.78 L365.42,60.20 L365.52,60.66 L365.61,61.15 L365.70,61.70 L365.80,62.29 L365.88,62.86 L365.89,62.95 L365.98,63.68 L366.08,64.55 L366.17,65.68 L366.26,67.15 L366.27,67.34 L366.36,70.40 L366.45,74.34 L366.47,74.80 L366.54,75.70 L366.64,76.66 L366.73,77.39 L366.82,77.94 L366.92,78.35 L366.97,78.53 L367.01,78.67 L367.11,78.96 L367.20,79.22 L367.29,79.47 L367.39,79.69 L367.48,79.90 L367.57,80.09 L367.67,80.26 L367.76,80.42 L367.85,80.56 L367.95,80.69 L368.04,80.81 L368.13,80.92 L368.23,81.02 L368.32,81.11 L368.36,81.15 L368.41,81.20 L368.51,81.28 L368.60,81.36 L368.69,81.44 L368.79,81.51 L368.88,81.58 L368.97,81.65 L369.07,81.72 L369.16,81.79 L369.26,81.85 L369.35,81.91 L369.44,81.97 L369.54,82.03 L369.63,82.08 L369.72,82.14 L369.82,82.19 L369.91,82.24 L370.00,82.29 L370.10,82.33 L370.19,82.38 L370.28,82.42 L370.38,82.47 L370.47,82.51 L370.56,82.55 L370.66,82.59 L370.75,82.63 L370.84,82.67 L370.94,82.70 L371.03,82.74 L371.12,82.78 L371.22,82.81 L371.31,82.85 L371.41,82.89 L371.50,82.92 L371.59,82.96 L371.69,82.99 L371.74,83.01 L371.78,83.03 L371.87,83.06 L371.97,83.10 L372.06,83.13 L372.15,83.17 L372.25,83.20 L372.34,83.24 L372.43,83.27 L372.53,83.30 L372.62,83.33 L372.71,83.37 L372.81,83.40 L372.90,83.43 L372.99,83.46 L373.09,83.49 L373.18,83.52 L373.27,83.55 L373.37,83.58 L373.46,83.61 L373.56,83.64 L373.65,83.67 L373.74,83.70 L373.84,83.72 L373.93,83.75 L374.02,83.78 L374.12,83.80 L374.21,83.83 L374.30,83.86 L374.40,83.88 L374.49,83.91 L374.58,83.93 L374.68,83.96 L374.77,83.98 L374.86,84.00 L374.96,84.03 L375.05,84.05 L375.14,84.07 L375.24,84.09 L375.33,84.12 L375.43,84.14 L375.52,84.16 L375.61,84.18 L375.71,84.20 L375.80,84.22 L375.89,84.24 L375.99,84.26 L376.08,84.28 L376.17,84.29 L376.27,84.31 L376.31,84.32 L376.36,84.33 L376.45,84.35 L376.55,84.36 L376.64,84.38 L376.73,84.40 L376.83,84.42 L376.92,84.43 L377.01,84.45 L377.11,84.47 L377.20,84.48 L377.29,84.50 L377.39,84.52 L377.48,84.53 L377.58,84.55 L377.67,84.57 L377.76,84.58 L377.86,84.60 L377.95,84.61 L378.04,84.63 L378.14,84.64 L378.23,84.66 L378.32,84.67 L378.42,84.69 L378.51,84.70 L378.60,84.72 L378.70,84.73 L378.79,84.75 L378.88,84.76 L378.98,84.78 L379.07,84.79 L379.16,84.81 L379.26,84.82 L379.35,84.83 L379.44,84.85 L379.54,84.86 L379.63,84.88 L379.73,84.89 L379.82,84.90 L379.91,84.92 L380.01,84.93 L380.10,84.94 L380.19,84.95 L380.29,84.97 L380.38,84.98 L380.47,84.99 L380.57,85.01 L380.66,85.02 L380.75,85.03 L380.85,85.04 L380.94,85.05 L381.03,85.07 L381.13,85.08 L381.22,85.09 L381.31,85.10 L381.41,85.11 L381.50,85.12 L381.59,85.13 L381.69,85.15 L381.78,85.16 L381.88,85.17 L381.97,85.18 L382.06,85.19 L382.16,85.20 L382.25,85.21 L382.34,85.22 L382.44,85.23 L382.53,85.24 L382.62,85.25 L382.72,85.26 L382.81,85.27 L382.90,85.28 L383.00,85.29 L383.09,85.30 L383.18,85.31 L383.28,85.32 L383.37,85.33 L383.46,85.34 L383.56,85.34 L383.65,85.35 L383.75,85.36 L383.84,85.37 L383.93,85.38 L384.03,85.39 L384.12,85.40 L384.21,85.40 L384.31,85.41 L384.40,85.42 L384.49,85.43 L384.59,85.43 L384.65,85.44 L384.68,85.44 L384.77,85.45 L384.87,85.46 L384.96,85.46 L385.05,85.47 L385.15,85.48 L385.24,85.49 L385.33,85.49 L385.43,85.50 L385.52,85.51 L385.61,85.52 L385.71,85.52 L385.80,85.53 L385.90,85.54 L385.99,85.55 L386.08,85.55 L386.18,85.56 L386.27,85.57 L386.36,85.57 L386.46,85.58 L386.55,85.59 L386.64,85.60 L386.74,85.60 L386.83,85.61 L386.92,85.62 L387.02,85.62 L387.11,85.63 L387.20,85.64 L387.30,85.65 L387.39,85.65 L387.48,85.66 L387.58,85.67 L387.67,85.67 L387.76,85.68 L387.86,85.69 L387.95,85.69 L388.05,85.70 L388.14,85.71 L388.23,85.71 L388.33,85.72 L388.42,85.72 L388.51,85.73 L388.61,85.74 L388.70,85.74 L388.79,85.75 L388.89,85.76 L388.98,85.76 L389.07,85.77 L389.17,85.77 L389.26,85.78 L389.35,85.79 L389.45,85.79 L389.54,85.80 L389.63,85.80 L389.73,85.81 L389.82,85.81 L389.91,85.82 L390.01,85.83 L390.10,85.83 L390.20,85.84 L390.29,85.84 L390.38,85.85 L390.48,85.85 L390.57,85.86 L390.66,85.86 L390.76,85.87 L390.85,85.87 L390.94,85.88 L391.04,85.88 L391.13,85.89 L391.22,85.89 L391.32,85.90 L391.41,85.90 L391.50,85.90 L391.60,85.91 L391.69,85.91 L391.78,85.92 L391.88,85.92 L391.97,85.92 L392.06,85.93 L392.16,85.93 L392.25,85.94 L392.35,85.94 L392.44,85.94 L392.53,85.95 L392.63,85.95 L392.72,85.95 L392.81,85.96 L392.91,85.96 L393.00,85.96 L393.09,85.97 L393.19,85.97 L393.28,85.97 L393.37,85.97 L393.47,85.98 L393.56,85.98 L393.65,85.98 L393.75,85.98 L393.84,85.99 L393.93,85.99 L394.03,85.99 L394.12,85.99 L394.22,85.99 L394.31,86.00 L394.40,86.00 L394.50,86.00 L394.59,86.00" fill="none" stroke="#77AC30" stroke-width="1.4" stroke-linejoin="round" stroke-linecap="butt" />
<path d="M303.19,86.00 L303.19,58.00" fill="none" stroke="#A6A23C" stroke-width="1.4" stroke-linejoin="round" stroke-linecap="butt" />
<path d="M301.20,58.00 L301.28,58.11 L301.36,58.41 L301.44,58.90 L301.53,59.57 L301.56,59.87 L301.61,61.87 L301.69,69.89 L301.77,80.56 L301.85,90.13 L301.90,93.47 L301.93,95.62 L302.02,99.79 L302.10,103.48 L302.18,106.77 L302.26,109.72 L302.34,112.40 L302.42,114.87 L302.50,117.21 L302.59,119.47 L302.59,119.60 L302.67,121.65 L302.75,123.68 L302.83,125.59 L302.91,127.39 L302.99,129.11 L303.08,130.75 L303.16,132.36 L303.24,133.93 L303.32,135.50 L303.39,136.77 L303.40,137.08 L303.48,138.69 L303.56,140.31 L303.65,141.95 L303.73,143.59 L303.81,145.23 L303.89,146.86 L303.97,148.49 L304.05,150.10 L304.14,151.69 L304.22,153.25 L304.30,154.78 L304.38,156.28 L304.46,157.73 L304.54,159.13 L304.63,160.48 L304.71,161.77 L304.79,162.99 L304.87,164.15 L304.95,165.23 L305.03,166.23 L305.11,167.14 L305.17,167.75 L305.20,167.97 L305.28,168.74 L305.36,169.49 L305.44,170.20 L305.52,170.89 L305.60,171.56 L305.69,172.20 L305.77,172.81 L305.85,173.41 L305.93,173.98 L306.01,174.54 L306.09,175.07 L306.17,175.60 L306.26,176.11 L306.34,176.60 L306.42,177.08 L306.50,177.56 L306.58,178.02 L306.66,178.48 L306.75,178.93 L306.83,179.38 L306.91,179.82 L306.99,180.26 L307.07,180.70 L307.15,181.15 L307.16,181.19 L307.23,181.59 L307.32,182.03 L307.40,182.47 L307.48,182.90 L307.56,183.32 L307.64,183.74 L307.72,184.16 L307.81,184.56 L307.89,184.97 L307.97,185.36 L308.05,185.75 L308.13,186.13 L308.21,186.50 L308.29,186.86 L308.38,187.21 L308.46,187.56 L308.54,187.89 L308.62,188.21 L308.70,188.53 L308.78,188.83 L308.87,189.12 L308.95,189.40 L308.95,189.40 L309.03,189.67 L309.11,189.93 L309.19,190.20 L309.27,190.46 L309.35,190.71 L309.44,190.97 L309.52,191.21 L309.60,191.46 L309.68,191.70 L309.76,191.94 L309.84,192.18 L309.93,192.41 L310.01,192.64 L310.09,192.87 L310.17,193.09 L310.25,193.32 L310.33,193.53 L310.41,193.75 L310.50,193.96 L310.58,194.17 L310.66,194.37 L310.74,194.58 L310.82,194.78 L310.90,194.98 L310.99,195.17 L311.07,195.36 L311.15,195.55 L311.23,195.74 L311.31,195.92 L311.39,196.11 L311.48,196.29 L311.56,196.46 L311.64,196.64 L311.72,196.81 L311.80,196.98 L311.88,197.14 L311.96,197.31 L312.05,197.47 L312.13,197.63 L312.21,197.79 L312.29,197.94 L312.37,198.10 L312.45,198.25 L312.54,198.40 L312.62,198.55 L312.70,198.69 L312.72,198.74 L312.78,198.83 L312.86,198.97 L312.94,199.11 L313.02,199.25 L313.11,199.39 L313.19,199.52 L313.27,199.65 L313.35,199.79 L313.43,199.91 L313.51,200.04 L313.60,200.16 L313.68,200.29 L313.76,200.41 L313.84,200.53 L313.92,200.64 L314.00,200.76 L314.08,200.87 L314.17,200.98 L314.25,201.09 L314.33,201.19 L314.41,201.30 L314.49,201.40 L314.57,201.50 L314.66,201.60 L314.74,201.69 L314.82,201.79 L314.90,201.88 L314.98,201.96 L315.06,202.05 L315.11,202.10 L315.14,202.13 L315.23,202.22 L315.31,202.31 L315.39,202.40 L315.47,202.49 L315.55,202.58 L315.63,202.67 L315.72,202.76 L315.80,202.84 L315.88,202.93 L315.96,203.01 L316.04,203.08 L316.12,203.15 L316.20,203.21 L316.29,203.27 L316.37,203.31 L316.45,203.35 L316.53,203.38 L316.61,203.40 L316.69,203.40 L316.70,203.40 L316.78,203.24 L316.86,202.79 L316.94,202.14 L317.02,201.38 L317.10,200.62 L317.18,199.94 L317.20,199.86 L317.27,199.37 L317.35,198.79 L317.43,198.22 L317.51,197.64 L317.59,197.06 L317.67,196.48 L317.75,195.89 L317.84,195.31 L317.92,194.73 L318.00,194.15 L318.08,193.56 L318.16,192.98 L318.24,192.41 L318.33,191.83 L318.41,191.26 L318.49,190.69 L318.57,190.13 L318.65,189.56 L318.73,189.01 L318.81,188.46 L318.90,187.91 L318.98,187.37 L319.06,186.84 L319.14,186.32 L319.22,185.80 L319.30,185.29 L319.39,184.79 L319.47,184.29 L319.55,183.81 L319.63,183.34 L319.68,183.06 L319.71,182.87 L319.79,182.42 L319.87,181.97 L319.96,181.52 L320.04,181.08 L320.12,180.64 L320.20,180.21 L320.28,179.78 L320.36,179.36 L320.45,178.94 L320.53,178.52 L320.61,178.11 L320.69,177.70 L320.77,177.30 L320.85,176.90 L320.93,176.50 L321.02,176.11 L321.10,175.72 L321.18,175.33 L321.26,174.94 L321.34,174.56 L321.42,174.18 L321.51,173.80 L321.59,173.43 L321.67,173.06 L321.75,172.68 L321.83,172.31 L321.91,171.95 L321.99,171.58 L322.08,171.21 L322.16,170.85 L322.24,170.49 L322.32,170.13 L322.40,169.76 L322.48,169.40 L322.57,169.04 L322.65,168.68 L322.73,168.32 L322.81,167.96 L322.86,167.75 L322.89,167.60 L322.97,167.25 L323.06,166.89 L323.14,166.54 L323.22,166.19 L323.30,165.84 L323.38,165.49 L323.46,165.14 L323.54,164.80 L323.63,164.46 L323.71,164.12 L323.79,163.78 L323.87,163.44 L323.95,163.11 L324.03,162.77 L324.12,162.44 L324.20,162.11 L324.28,161.78 L324.36,161.45 L324.44,161.12 L324.52,160.80 L324.60,160.47 L324.69,160.14 L324.77,159.82 L324.85,159.50 L324.93,159.17 L325.01,158.85 L325.09,158.53 L325.18,158.21 L325.26,157.88 L325.34,157.56 L325.42,157.24 L325.50,156.92 L325.58,156.60 L325.66,156.28 L325.75,155.96 L325.83,155.64 L325.91,155.32 L325.99,155.00 L326.07,154.68 L326.15,154.35 L326.24,154.03 L326.32,153.71 L326.40,153.38 L326.48,153.06 L326.56,152.74 L326.63,152.45 L326.64,152.41 L326.72,152.08 L326.81,151.76 L326.89,151.44 L326.97,151.12 L327.05,150.80 L327.13,150.48 L327.21,150.16 L327.30,149.85 L327.38,149.53 L327.46,149.22 L327.54,148.91 L327.62,148.59 L327.70,148.28 L327.78,147.97 L327.87,147.66 L327.95,147.35 L328.03,147.04 L328.11,146.73 L328.19,146.42 L328.27,146.11 L328.36,145.80 L328.44,145.48 L328.52,145.17 L328.60,144.86 L328.68,144.55 L328.76,144.24 L328.84,143.92 L328.93,143.61 L329.01,143.29 L329.09,142.97 L329.17,142.66 L329.25,142.34 L329.33,142.02 L329.42,141.70 L329.50,141.37 L329.58,141.05 L329.66,140.72 L329.74,140.39 L329.82,140.06 L329.91,139.73 L329.99,139.39 L330.07,139.06 L330.15,138.72 L330.23,138.38 L330.31,138.03 L330.39,137.69 L330.48,137.34 L330.56,136.99 L330.61,136.77 L330.64,136.63 L330.72,136.27 L330.80,135.91 L330.88,135.55 L330.97,135.18 L331.05,134.82 L331.13,134.45 L331.21,134.07 L331.29,133.70 L331.37,133.32 L331.45,132.94 L331.54,132.56 L331.62,132.17 L331.70,131.78 L331.78,131.40 L331.86,131.01 L331.94,130.61 L332.03,130.22 L332.11,129.82 L332.19,129.43 L332.27,129.03 L332.35,128.63 L332.43,128.23 L332.51,127.83 L332.60,127.42 L332.68,127.02 L332.76,126.62 L332.84,126.21 L332.92,125.80 L333.00,125.40 L333.09,124.99 L333.17,124.58 L333.25,124.17 L333.33,123.76 L333.41,123.35 L333.49,122.94 L333.57,122.53 L333.66,122.12 L333.74,121.71 L333.79,121.46 L333.82,121.30 L333.90,120.88 L333.98,120.45 L334.06,120.01 L334.15,119.57 L334.23,119.12 L334.31,118.66 L334.39,118.19 L334.47,117.72 L334.55,117.25 L334.63,116.78 L334.72,116.30 L334.80,115.82 L334.88,115.34 L334.96,114.85 L335.04,114.37 L335.12,113.90 L335.21,113.42 L335.29,112.95 L335.37,112.48 L335.45,112.01 L335.53,111.55 L335.61,111.10 L335.70,110.65 L335.78,110.21 L335.86,109.78 L335.94,109.36 L336.02,108.95 L336.10,108.55 L336.18,108.16 L336.27,107.78 L336.35,107.42 L336.43,107.07 L336.51,106.73 L336.59,106.41 L336.67,106.11 L336.76,105.83 L336.77,105.78 L336.84,105.55 L336.92,105.28 L337.00,105.02 L337.08,104.75 L337.16,104.49 L337.24,104.23 L337.33,103.98 L337.41,103.73 L337.49,103.48 L337.57,103.24 L337.65,102.99 L337.73,102.76 L337.82,102.52 L337.90,102.29 L337.98,102.06 L338.06,101.84 L338.14,101.61 L338.22,101.40 L338.30,101.18 L338.39,100.97 L338.47,100.76 L338.55,100.56 L338.63,100.36 L338.71,100.16 L338.79,99.96 L338.88,99.77 L338.96,99.58 L339.04,99.40 L339.12,99.22 L339.20,99.04 L339.28,98.87 L339.36,98.70 L339.45,98.53 L339.53,98.37 L339.61,98.21 L339.69,98.05 L339.77,97.90 L339.85,97.75 L339.94,97.61 L340.02,97.47 L340.10,97.33 L340.18,97.19 L340.26,97.06 L340.34,96.93 L340.42,96.81 L340.51,96.69 L340.54,96.64 L340.59,96.57 L340.67,96.46 L340.75,96.35 L340.83,96.23 L340.91,96.12 L341.00,96.01 L341.08,95.91 L341.16,95.80 L341.24,95.69 L341.32,95.59 L341.40,95.49 L341.48,95.39 L341.57,95.29 L341.65,95.19 L341.73,95.09 L341.81,94.99 L341.89,94.90 L341.97,94.81 L342.06,94.71 L342.14,94.62 L342.22,94.53 L342.30,94.44 L342.38,94.35 L342.46,94.27 L342.55,94.18 L342.63,94.09 L342.71,94.01 L342.79,93.93 L342.87,93.85 L342.95,93.76 L343.03,93.68 L343.12,93.61 L343.20,93.53 L343.28,93.45 L343.36,93.37 L343.44,93.30 L343.52,93.22 L343.61,93.15 L343.69,93.08 L343.77,93.01 L343.85,92.93 L343.93,92.86 L344.01,92.79 L344.09,92.73 L344.18,92.66 L344.26,92.59 L344.34,92.52 L344.42,92.46 L344.50,92.39 L344.58,92.33 L344.67,92.26 L344.75,92.20 L344.83,92.14 L344.91,92.08 L344.99,92.02 L345.07,91.95 L345.15,91.89 L345.24,91.83 L345.32,91.77 L345.40,91.72 L345.48,91.66 L345.56,91.60 L345.64,91.54 L345.73,91.49 L345.81,91.43 L345.89,91.37 L345.97,91.32 L346.05,91.26 L346.11,91.23 L346.13,91.21 L346.21,91.15 L346.30,91.10 L346.38,91.05 L346.46,90.99 L346.54,90.94 L346.62,90.89 L346.70,90.84 L346.79,90.79 L346.87,90.74 L346.95,90.69 L347.03,90.64 L347.11,90.59 L347.19,90.54 L347.27,90.49 L347.36,90.44 L347.44,90.39 L347.52,90.35 L347.60,90.30 L347.68,90.26 L347.76,90.21 L347.85,90.17 L347.93,90.12 L348.01,90.08 L348.09,90.04 L348.17,89.99 L348.25,89.95 L348.34,89.91 L348.42,89.87 L348.50,89.83 L348.58,89.79 L348.66,89.75 L348.74,89.71 L348.82,89.67 L348.91,89.63 L348.99,89.59 L349.07,89.56 L349.15,89.52 L349.23,89.48 L349.31,89.45 L349.40,89.41 L349.48,89.38 L349.56,89.35 L349.64,89.31 L349.72,89.28 L349.80,89.25 L349.88,89.22 L349.97,89.19 L350.00,89.17 L350.05,89.16 L350.13,89.13 L350.21,89.10 L350.29,89.07 L350.37,89.04 L350.46,89.01 L350.54,88.98 L350.62,88.95 L350.70,88.92 L350.78,88.89 L350.86,88.86 L350.94,88.84 L351.03,88.81 L351.11,88.78 L351.19,88.75 L351.27,88.73 L351.35,88.70 L351.43,88.68 L351.52,88.65 L351.60,88.62 L351.68,88.60 L351.76,88.57 L351.84,88.55 L351.92,88.53 L352.00,88.50 L352.09,88.48 L352.17,88.46 L352.25,88.43 L352.33,88.41 L352.41,88.39 L352.49,88.37 L352.58,88.34 L352.66,88.32 L352.74,88.30 L352.82,88.28 L352.90,88.26 L352.98,88.24 L353.06,88.22 L353.15,88.20 L353.23,88.18 L353.31,88.17 L353.39,88.15 L353.47,88.13 L353.55,88.11 L353.64,88.10 L353.72,88.08 L353.80,88.06 L353.86,88.05 L353.88,88.05 L353.96,88.03 L354.04,88.02 L354.13,88.00 L354.21,87.99 L354.29,87.97 L354.37,87.96 L354.45,87.94 L354.53,87.93 L354.61,87.92 L354.70,87.90 L354.78,87.89 L354.86,87.87 L354.94,87.86 L355.02,87.85 L355.10,87.83 L355.19,87.82 L355.27,87.81 L355.35,87.79 L355.43,87.78 L355.51,87.77 L355.59,87.76 L355.67,87.74 L355.76,87.73 L355.84,87.72 L355.92,87.71 L356.00,87.69 L356.08,87.68 L356.16,87.67 L356.25,87.66 L356.33,87.65 L356.41,87.64 L356.49,87.62 L356.57,87.61 L356.65,87.60 L356.73,87.59 L356.82,87.58 L356.90,87.57 L356.98,87.56 L357.06,87.55 L357.14,87.54 L357.22,87.53 L357.31,87.52 L357.39,87.50 L357.47,87.49 L357.55,87.48 L357.63,87.47 L357.71,87.46 L357.79,87.45 L357.88,87.44 L357.96,87.43 L358.04,87.42 L358.12,87.41 L358.20,87.41 L358.28,87.40 L358.37,87.39 L358.45,87.38 L358.53,87.37 L358.61,87.36 L358.69,87.35 L358.77,87.34 L358.85,87.33 L358.94,87.32 L359.02,87.31 L359.10,87.30 L359.18,87.29 L359.26,87.28 L359.34,87.28 L359.43,87.27 L359.51,87.26 L359.59,87.25 L359.67,87.24 L359.75,87.23 L359.83,87.22 L359.91,87.21 L360.00,87.21 L360.08,87.20 L360.16,87.19 L360.24,87.18 L360.32,87.17 L360.40,87.16 L360.49,87.15 L360.57,87.15 L360.65,87.14 L360.73,87.13 L360.81,87.12 L360.81,87.12 L360.89,87.11 L360.98,87.10 L361.06,87.09 L361.14,87.09 L361.22,87.08 L361.30,87.07 L361.38,87.06 L361.46,87.05 L361.55,87.04 L361.63,87.04 L361.71,87.03 L361.79,87.02 L361.87,87.01 L361.95,87.00 L362.04,87.00 L362.12,86.99 L362.20,86.98 L362.28,86.97 L362.36,86.96 L362.44,86.95 L362.52,86.95 L362.61,86.94 L362.69,86.93 L362.77,86.92 L362.85,86.92 L362.93,86.91 L363.01,86.90 L363.10,86.89 L363.18,86.88 L363.26,86.88 L363.34,86.87 L363.42,86.86 L363.50,86.85 L363.58,86.85 L363.67,86.84 L363.75,86.83 L363.83,86.82 L363.91,86.82 L363.99,86.81 L364.07,86.80 L364.16,86.79 L364.24,86.79 L364.32,86.78 L364.40,86.77 L364.48,86.77 L364.56,86.76 L364.64,86.75 L364.73,86.74 L364.81,86.74 L364.89,86.73 L364.97,86.72 L365.05,86.72 L365.13,86.71 L365.22,86.70 L365.30,86.70 L365.38,86.69 L365.46,86.68 L365.54,86.68 L365.62,86.67 L365.70,86.66 L365.79,86.66 L365.87,86.65 L365.95,86.64 L366.03,86.64 L366.11,86.63 L366.19,86.62 L366.28,86.62 L366.36,86.61 L366.44,86.61 L366.52,86.60 L366.60,86.59 L366.68,86.59 L366.77,86.58 L366.85,86.58 L366.93,86.57 L367.01,86.56 L367.09,86.56 L367.17,86.55 L367.25,86.55 L367.34,86.54 L367.42,86.53 L367.50,86.53 L367.58,86.52 L367.66,86.52 L367.74,86.51 L367.83,86.51 L367.91,86.50 L367.99,86.50 L368.07,86.49 L368.15,86.49 L368.23,86.48 L368.31,86.48 L368.40,86.47 L368.48,86.46 L368.56,86.46 L368.64,86.45 L368.72,86.45 L368.76,86.45 L368.80,86.45 L368.89,86.44 L368.97,86.44 L369.05,86.43 L369.13,86.43 L369.21,86.42 L369.29,86.42 L369.37,86.41 L369.46,86.41 L369.54,86.40 L369.62,86.40 L369.70,86.39 L369.78,86.39 L369.86,86.38 L369.95,86.38 L370.03,86.37 L370.11,86.37 L370.19,86.36 L370.27,86.36 L370.35,86.35 L370.43,86.35 L370.52,86.34 L370.60,86.33 L370.68,86.33 L370.76,86.32 L370.84,86.32 L370.92,86.31 L371.01,86.31 L371.09,86.30 L371.17,86.30 L371.25,86.29 L371.33,86.29 L371.41,86.28 L371.49,86.28 L371.58,86.27 L371.66,86.27 L371.74,86.26 L371.82,86.26 L371.90,86.25 L371.98,86.25 L372.07,86.24 L372.15,86.24 L372.23,86.23 L372.31,86.23 L372.39,86.23 L372.47,86.22 L372.55,86.22 L372.64,86.21 L372.72,86.21 L372.80,86.20 L372.88,86.20 L372.96,86.19 L373.04,86.19 L373.13,86.18 L373.21,86.18 L373.29,86.17 L373.37,86.17 L373.45,86.16 L373.53,86.16 L373.62,86.16 L373.70,86.15 L373.78,86.15 L373.86,86.14 L373.94,86.14 L374.02,86.13 L374.10,86.13 L374.19,86.13 L374.27,86.12 L374.35,86.12 L374.43,86.11 L374.51,86.11 L374.59,86.11 L374.68,86.10 L374.76,86.10 L374.84,86.10 L374.92,86.09 L375.00,86.09 L375.08,86.08 L375.16,86.08 L375.25,86.08 L375.33,86.07 L375.41,86.07 L375.49,86.07 L375.57,86.06 L375.65,86.06 L375.74,86.06 L375.82,86.06 L375.90,86.05 L375.98,86.05 L376.06,86.05 L376.14,86.04 L376.22,86.04 L376.31,86.04 L376.39,86.04 L376.47,86.03 L376.55,86.03 L376.63,86.03 L376.71,86.03 L376.80,86.03 L376.88,86.02 L376.96,86.02 L377.04,86.02 L377.12,86.02 L377.20,86.02 L377.28,86.01 L377.37,86.01 L377.45,86.01 L377.53,86.01 L377.61,86.01 L377.69,86.01 L377.77,86.01 L377.86,86.01 L377.94,86.00 L378.02,86.00 L378.10,86.00 L378.18,86.00 L378.26,86.00 L378.34,86.00 L378.43,86.00 L378.51,86.00 L378.59,86.00 L378.67,86.00 L378.69,86.00 L378.75,86.00 L378.83,86.00 L378.92,86.00 L379.00,86.00 L379.08,86.00 L379.16,86.00 L379.24,86.00 L379.32,86.00 L379.41,86.00 L379.49,86.00 L379.57,86.00 L379.65,86.00 L379.73,86.00 L379.81,86.00 L379.89,86.00 L379.98,86.00 L380.06,86.00 L380.14,86.00 L380.22,86.00 L380.30,86.00 L380.38,86.00 L380.47,86.00 L380.55,86.00 L380.63,86.00 L380.71,86.00 L380.79,86.00 L380.87,86.00 L380.95,86.00 L381.04,86.00 L381.12,86.00 L381.20,86.00 L381.28,86.00 L381.36,86.00 L381.44,86.00 L381.53,86.00 L381.61,86.00 L381.69,86.00 L381.77,86.00 L381.85,86.00 L381.93,86.00 L382.01,86.00 L382.10,86.00 L382.18,86.00 L382.26,86.00 L382.34,86.00 L382.42,86.00 L382.50,86.00 L382.59,86.00 L382.67,86.00" fill="none" stroke="#4DBEEE" stroke-width="1.4" stroke-linejoin="round" stroke-linecap="butt" />
<path d="M379.69,86.00 L499.90,86.00" fill="none" stroke="#4EABA6" stroke-width="1.4" stroke-linejoin="round" stroke-linecap="butt" />
<g fill="none"><path d="M148.2,298.8V497.4M408.0,298.8V497.4" stroke="#d0d0d0" stroke-width="1.4"/><path d="M147.50,298.8H408.70M147.50,497.4H408.70" stroke="#d2d2d2" stroke-width="1.2"/><path d="M200.48,497.4v-2.5M200.48,298.8v2.5M252.36,497.4v-2.5M252.36,298.8v2.5M304.24,497.4v-2.5M304.24,298.8v2.5M356.12,497.4v-2.5M356.12,298.8v2.5M148.2,457.65h2.5M408.0,457.65h-2.5M148.2,417.90h2.5M408.0,417.90h-2.5M148.2,378.15h2.5M408.0,378.15h-2.5M148.2,338.40h2.5M408.0,338.40h-2.5" stroke="#d2d2d2" stroke-width="1.2"/></g>
<path d="M149.20,497.40 L149.36,497.40 L149.53,497.40 L149.69,497.40 L149.86,497.40 L150.02,497.40 L150.19,497.40 L150.35,497.40 L150.52,497.40 L150.68,492.85 L150.85,486.35 L151.01,480.06 L151.18,473.99 L151.34,468.12 L151.51,462.45 L151.67,456.98 L151.84,451.68 L152.00,446.57 L152.17,441.63 L152.33,436.86 L152.50,432.25 L152.66,427.80 L152.83,423.49 L152.99,419.33 L153.16,415.32 L153.32,411.44 L153.49,407.69 L153.65,404.06 L153.82,400.56 L153.98,397.18 L154.15,393.91 L154.31,390.76 L154.48,387.71 L154.64,384.76 L154.81,381.91 L154.97,379.16 L155.14,376.50 L155.30,373.94 L155.47,371.45 L155.63,369.06 L155.80,366.74 L155.96,364.50 L156.13,362.34 L156.29,360.25 L156.46,358.24 L156.62,356.29 L156.79,354.40 L156.95,352.58 L157.12,350.83 L157.28,349.13 L157.45,347.49 L157.61,345.90 L157.78,344.37 L157.94,342.89 L158.11,341.46 L158.27,340.08 L158.44,338.74 L158.60,337.45 L158.77,336.21 L158.93,335.00 L159.10,333.84 L159.26,332.72 L159.43,331.63 L159.59,330.58 L159.76,329.57 L159.92,328.59 L160.09,327.64 L160.25,326.73 L160.42,325.85 L160.58,324.99 L160.75,324.17 L160.91,323.37 L161.08,322.60 L161.24,321.86 L161.41,321.14 L161.57,320.45 L161.74,319.78 L161.90,319.13 L162.07,318.50 L162.23,317.90 L162.40,317.31 L162.56,316.75 L162.73,316.20 L162.89,315.68 L163.06,315.17 L163.22,314.68 L163.39,314.20 L163.55,313.74 L163.72,313.30 L163.88,312.87 L164.05,312.46 L164.21,312.06 L164.38,311.67 L164.54,311.30 L164.71,310.94 L164.87,310.59 L165.04,310.25 L165.20,309.93 L165.37,309.61 L165.53,309.31 L165.70,309.01 L165.86,308.73 L166.03,308.46 L166.19,308.19 L166.36,307.94 L166.52,307.69 L166.69,307.45 L166.85,307.22 L167.02,307.00 L167.18,306.78 L167.35,306.57 L167.51,306.37 L167.68,306.18 L167.84,305.99 L168.01,305.81 L168.17,305.63 L168.34,305.47 L168.50,305.30 L168.67,305.14 L168.83,304.99 L169.20,311.24 L169.57,317.28 L169.93,323.12 L170.30,328.78 L170.67,334.25 L171.04,339.55 L171.40,344.67 L171.77,349.63 L172.14,354.42 L172.51,359.06 L172.87,363.55 L173.24,367.90 L173.61,372.10 L173.98,376.17 L174.34,380.10 L174.71,383.91 L175.08,387.59 L175.45,391.16 L175.81,394.60 L176.18,397.94 L176.55,401.17 L176.92,404.29 L177.28,407.31 L177.65,410.24 L178.02,413.07 L178.39,415.80 L178.75,418.45 L179.12,421.01 L179.49,423.49 L179.86,425.89 L180.22,428.21 L180.59,430.46 L180.96,432.63 L181.33,434.73 L181.69,436.77 L182.06,438.73 L182.43,440.64 L182.80,442.48 L183.16,444.26 L183.53,445.99 L183.90,447.66 L184.27,449.27 L184.63,450.83 L185.00,452.34 L185.37,453.81 L185.73,455.22 L186.10,456.59 L186.47,457.91 L186.84,459.20 L187.20,460.44 L187.57,461.64 L187.94,462.80 L188.31,463.92 L188.67,465.01 L189.04,466.06 L189.41,467.08 L189.78,468.06 L190.14,469.01 L190.51,469.93 L190.88,470.82 L191.25,471.69 L191.61,472.52 L191.98,473.33 L192.35,474.11 L192.72,474.87 L193.08,475.60 L193.45,476.30 L193.82,476.99 L194.19,477.65 L194.55,478.29 L194.92,478.91 L195.29,479.51 L195.66,480.09 L196.02,480.66 L196.39,481.20 L196.76,481.72 L197.13,482.23 L197.49,482.73 L197.86,483.20 L198.23,483.66 L198.60,484.11 L198.96,484.54 L199.33,484.96 L199.70,485.36 L200.07,485.75 L200.43,486.13 L200.80,486.50 L201.17,486.85 L201.54,487.19 L201.90,487.52 L202.27,487.84 L202.64,488.15 L203.01,488.45 L203.37,488.74 L203.74,489.03 L204.11,489.30 L204.47,489.56 L204.84,489.81 L205.21,490.06 L205.58,490.30 L205.94,490.53 L206.31,490.75 L206.68,490.97 L207.05,491.18 L207.41,491.38 L207.78,491.57 L208.15,491.76 L208.52,491.95 L208.88,492.12 L209.25,492.29 L209.62,492.46 L209.99,492.62 L210.35,492.78 L210.72,492.93 L211.09,493.07 L211.46,493.21 L211.82,493.35 L212.19,493.48 L212.56,493.61 L212.93,493.73 L213.29,493.85 L213.66,493.96 L214.03,494.08 L214.40,494.18 L214.76,494.29 L215.13,494.39 L215.50,494.49 L215.87,494.58 L216.23,494.67 L216.60,494.76 L216.97,494.85 L217.34,494.93 L217.70,495.01 L218.07,495.09 L218.44,495.16 L218.81,495.23 L219.17,495.31 L219.54,495.37 L219.91,495.44 L220.28,495.50 L220.64,495.56 L221.01,495.62 L221.38,495.68 L221.75,495.74 L222.11,495.79 L222.48,495.84 L222.85,495.89 L223.21,495.94 L223.58,495.99 L223.95,496.04 L224.32,496.08 L224.68,496.12 L225.05,496.16 L225.42,496.20 L225.79,496.24 L226.15,496.28 L226.52,496.32 L226.89,496.35 L227.26,496.39 L227.62,496.42 L227.99,496.45 L228.36,496.48 L228.73,496.51 L229.09,496.54 L229.46,496.57 L229.83,496.60 L230.20,496.62 L230.56,496.65 L230.93,496.67 L231.30,496.69 L231.67,496.72 L232.03,496.74 L232.40,496.76 L232.77,496.78 L233.14,496.80 L233.50,496.82 L233.87,496.84 L234.24,496.86 L234.61,496.88 L234.97,496.89 L235.34,496.91 L235.71,496.93 L236.08,496.94 L236.44,496.96 L236.81,496.97 L237.18,496.98 L237.55,497.00 L237.91,497.01 L238.28,497.02 L238.65,497.04 L239.02,497.05 L239.38,497.06 L239.75,497.07 L240.12,497.08 L240.49,497.09 L240.85,497.10 L241.22,497.11 L241.59,497.12 L241.95,497.13 L242.32,497.14 L242.69,497.15 L243.06,497.15 L243.42,497.16 L243.79,497.17 L244.16,497.18 L244.53,497.18 L244.89,497.19 L245.26,497.20 L245.63,497.21 L246.00,497.21 L246.36,497.22 L246.73,497.22 L247.10,497.23 L247.47,497.23 L247.83,497.24 L248.20,497.25 L248.57,497.25 L248.94,497.26 L249.30,497.26 L249.67,497.26 L250.04,497.27 L250.41,497.27 L250.77,497.28 L251.14,497.28 L251.51,497.29 L251.88,497.29 L252.24,497.29 L252.61,497.30 L252.98,497.30 L253.35,497.30 L253.71,497.31 L254.08,497.31 L254.45,497.31 L254.82,497.31 L255.18,497.32 L255.55,497.32 L255.92,497.32 L256.29,497.33 L256.65,497.33 L257.02,497.33 L257.39,497.33 L257.76,497.33 L258.12,497.34 L258.49,497.34 L258.86,497.34 L259.23,497.34 L259.59,497.34 L259.96,497.35 L260.33,497.35 L260.69,497.35 L261.06,497.35 L261.43,497.35 L261.80,497.35 L262.16,497.36 L262.53,497.36 L262.90,497.36 L263.27,497.36 L263.63,497.36 L264.00,497.36 L264.37,497.36 L264.74,497.36 L265.10,497.37 L265.47,497.37 L265.84,497.37 L266.21,497.37 L266.57,497.37 L266.94,497.37 L267.31,497.37 L267.68,497.37 L268.04,497.37 L268.41,497.37 L268.78,497.38 L269.15,497.38 L269.51,497.38 L269.88,497.38 L270.25,497.38 L270.62,497.38 L270.98,497.38 L271.35,497.38 L271.72,497.38 L272.09,497.38 L272.45,497.38 L272.82,497.38 L273.19,497.38 L273.56,497.38 L273.92,497.38 L274.29,497.39 L274.66,497.39 L275.03,497.39 L275.39,497.39 L275.76,497.39 L276.13,497.39 L276.50,497.39 L276.86,497.39 L277.23,497.39 L277.60,497.39 L277.97,497.39 L278.33,497.39 L278.70,497.39 L408.20,497.40" fill="none" stroke="#262626" stroke-width="1.1" stroke-linejoin="round" stroke-linecap="butt" />
<text x="30.00" y="22.36" font-size="12" text-anchor="end" font-family="Liberation Serif, serif" fill="#000" stroke="#000" stroke-width="0.25" >2</text>
<text x="30.00" y="57.73" font-size="12" text-anchor="end" font-family="Liberation Serif, serif" fill="#000" stroke="#000" stroke-width="0.25" >1</text>
<text x="30.00" y="93.10" font-size="12" text-anchor="end" font-family="Liberation Serif, serif" fill="#000" stroke="#000" stroke-width="0.25" >0</text>
<text x="30.00" y="128.47" font-size="12" text-anchor="end" font-family="Liberation Serif, serif" fill="#000" stroke="#000" stroke-width="0.25" >-1</text>
<text x="30.00" y="163.84" font-size="12" text-anchor="end" font-family="Liberation Serif, serif" fill="#000" stroke="#000" stroke-width="0.25" >-2</text>
<text x="30.00" y="199.21" font-size="12" text-anchor="end" font-family="Liberation Serif, serif" fill="#000" stroke="#000" stroke-width="0.25" >-3</text>
<text x="30.00" y="234.58" font-size="12" text-anchor="end" font-family="Liberation Serif, serif" fill="#000" stroke="#000" stroke-width="0.25" >-4</text>
<text x="35.01" y="250.20" font-size="12" text-anchor="middle" font-family="Liberation Serif, serif" fill="#000" stroke="#000" stroke-width="0.25" >0</text>
<text x="73.60" y="250.20" font-size="12" text-anchor="middle" font-family="Liberation Serif, serif" fill="#000" stroke="#000" stroke-width="0.25" >0.2</text>
<text x="113.80" y="250.20" font-size="12" text-anchor="middle" font-family="Liberation Serif, serif" fill="#000" stroke="#000" stroke-width="0.25" >0.4</text>
<text x="154.00" y="250.20" font-size="12" text-anchor="middle" font-family="Liberation Serif, serif" fill="#000" stroke="#000" stroke-width="0.25" >0.6</text>
<text x="194.20" y="250.20" font-size="12" text-anchor="middle" font-family="Liberation Serif, serif" fill="#000" stroke="#000" stroke-width="0.25" >0.8</text>
<text x="234.40" y="250.20" font-size="12" text-anchor="middle" font-family="Liberation Serif, serif" fill="#000" stroke="#000" stroke-width="0.25" >1</text>
<text x="140.90" y="268.70" font-size="13.5" text-anchor="middle" font-family="Liberation Serif, serif" fill="#000" stroke="#000" stroke-width="0.25" textLength="45" lengthAdjust="spacingAndGlyphs">time (ns)</text>
<text transform="translate(13.6,124.0) rotate(-90)" font-size="12.5" stroke="#000" stroke-width="0.2" text-anchor="middle" font-family="Liberation Serif, serif" fill="#000">V</text>
<text x="132.90" y="290.60" font-size="10.5" text-anchor="middle" font-family="Liberation Serif, serif" fill="#000" stroke="#000" stroke-width="0.05" font-weight="bold">(a)</text>
<text x="297.60" y="15.34" font-size="12" text-anchor="end" font-family="Liberation Serif, serif" fill="#000" stroke="#000" stroke-width="0.25" >2</text>
<text x="297.60" y="52.67" font-size="12" text-anchor="end" font-family="Liberation Serif, serif" fill="#000" stroke="#000" stroke-width="0.25" >1</text>
<text x="297.60" y="90.00" font-size="12" text-anchor="end" font-family="Liberation Serif, serif" fill="#000" stroke="#000" stroke-width="0.25" >0</text>
<text x="297.60" y="127.33" font-size="12" text-anchor="end" font-family="Liberation Serif, serif" fill="#000" stroke="#000" stroke-width="0.25" >-1</text>
<text x="297.60" y="164.66" font-size="12" text-anchor="end" font-family="Liberation Serif, serif" fill="#000" stroke="#000" stroke-width="0.25" >-2</text>
<text x="297.60" y="201.99" font-size="12" text-anchor="end" font-family="Liberation Serif, serif" fill="#000" stroke="#000" stroke-width="0.25" >-3</text>
<text x="297.60" y="239.32" font-size="12" text-anchor="end" font-family="Liberation Serif, serif" fill="#000" stroke="#000" stroke-width="0.25" >-4</text>
<text x="303.49" y="258.40" font-size="12" text-anchor="middle" font-family="Liberation Serif, serif" fill="#000" stroke="#000" stroke-width="0.25" >0</text>
<text x="340.94" y="258.40" font-size="12" text-anchor="middle" font-family="Liberation Serif, serif" fill="#000" stroke="#000" stroke-width="0.25" >0.2</text>
<text x="380.68" y="258.40" font-size="12" text-anchor="middle" font-family="Liberation Serif, serif" fill="#000" stroke="#000" stroke-width="0.25" >0.4</text>
<text x="420.42" y="258.40" font-size="12" text-anchor="middle" font-family="Liberation Serif, serif" fill="#000" stroke="#000" stroke-width="0.25" >0.6</text>
<text x="460.16" y="258.40" font-size="12" text-anchor="middle" font-family="Liberation Serif, serif" fill="#000" stroke="#000" stroke-width="0.25" >0.8</text>
<text x="499.90" y="258.40" font-size="12" text-anchor="middle" font-family="Liberation Serif, serif" fill="#000" stroke="#000" stroke-width="0.25" >1</text>
<text x="411.80" y="277.00" font-size="13.2" text-anchor="middle" font-family="Liberation Serif, serif" fill="#000" stroke="#000" stroke-width="0.25" textLength="42.5" lengthAdjust="spacingAndGlyphs">time (ns)</text>
<text transform="translate(281.2,124.0) rotate(-90)" font-size="12.5" stroke="#000" stroke-width="0.2" text-anchor="middle" font-family="Liberation Serif, serif" fill="#000">V</text>
<text x="411.90" y="290.00" font-size="10.5" text-anchor="middle" font-family="Liberation Serif, serif" fill="#000" stroke="#000" stroke-width="0.05" font-weight="bold">(b)</text>
<text x="144.80" y="302.15" font-size="10.6" text-anchor="end" font-family="Liberation Serif, serif" fill="#000" stroke="#000" stroke-width="0.08" >5</text>
<text x="144.80" y="341.90" font-size="10.6" text-anchor="end" font-family="Liberation Serif, serif" fill="#000" stroke="#000" stroke-width="0.08" >4</text>
<text x="144.80" y="381.65" font-size="10.6" text-anchor="end" font-family="Liberation Serif, serif" fill="#000" stroke="#000" stroke-width="0.08" >3</text>
<text x="144.80" y="421.40" font-size="10.6" text-anchor="end" font-family="Liberation Serif, serif" fill="#000" stroke="#000" stroke-width="0.08" >2</text>
<text x="144.80" y="461.15" font-size="10.6" text-anchor="end" font-family="Liberation Serif, serif" fill="#000" stroke="#000" stroke-width="0.08" >1</text>
<text x="150.12" y="510.80" font-size="10.6" text-anchor="middle" font-family="Liberation Serif, serif" fill="#000" stroke="#000" stroke-width="0.08" >0</text>
<text x="201.48" y="510.80" font-size="10.6" text-anchor="middle" font-family="Liberation Serif, serif" fill="#000" stroke="#000" stroke-width="0.08" textLength="15.2" lengthAdjust="spacingAndGlyphs">0.2</text>
<text x="253.36" y="510.80" font-size="10.6" text-anchor="middle" font-family="Liberation Serif, serif" fill="#000" stroke="#000" stroke-width="0.08" textLength="15.2" lengthAdjust="spacingAndGlyphs">0.4</text>
<text x="305.24" y="510.80" font-size="10.6" text-anchor="middle" font-family="Liberation Serif, serif" fill="#000" stroke="#000" stroke-width="0.08" textLength="15.2" lengthAdjust="spacingAndGlyphs">0.6</text>
<text x="357.12" y="510.80" font-size="10.6" text-anchor="middle" font-family="Liberation Serif, serif" fill="#000" stroke="#000" stroke-width="0.08" textLength="15.2" lengthAdjust="spacingAndGlyphs">0.8</text>
<text x="409.00" y="510.80" font-size="10.6" text-anchor="middle" font-family="Liberation Serif, serif" fill="#000" stroke="#000" stroke-width="0.08" >1</text>
<text x="279.90" y="526.40" font-size="11.5" text-anchor="middle" font-family="Liberation Serif, serif" fill="#000" stroke="#000" stroke-width="0.1" textLength="42.5" lengthAdjust="spacingAndGlyphs">time (ns)</text>
<g transform="translate(126.9,399.3) rotate(-90)" font-family="Liberation Serif, serif" fill="#000" ><text transform="translate(-16.2,0) scale(0.718,1)" font-size="12.5">I</text><text transform="translate(-13.4,0.6) scale(0.775,1)" font-size="8">inj.</text><text transform="translate(-1.2,0.3) scale(0.928,1)" font-size="8.4">(mA)</text></g>
<text x="276.50" y="544.00" font-size="10.5" text-anchor="middle" font-family="Liberation Serif, serif" fill="#000" stroke="#000" stroke-width="0.05" font-weight="bold">(c)</text>
<rect x="150.5" y="165.2" width="98.30" height="61.30" fill="#fff" stroke="#4a4a4a" stroke-width="1"/>
<path d="M152.4,170.40H163.0" stroke="#0072BD" stroke-width="1.5"/>
<text x="164.90" y="173.35" font-size="8.2" text-anchor="start" font-family="Liberation Sans, sans-serif" fill="#222" stroke="#222" stroke-width="0.12" textLength="34.75" lengthAdjust="spacingAndGlyphs">Q w/o SEU</text>
<path d="M152.4,180.70H163.0" stroke="#D95319" stroke-width="1.5"/>
<text x="164.90" y="183.65" font-size="8.2" text-anchor="start" font-family="Liberation Sans, sans-serif" fill="#222" stroke="#222" stroke-width="0.12" textLength="71.44" lengthAdjust="spacingAndGlyphs">Q with SEU for FinFET</text>
<path d="M152.4,191.00H163.0" stroke="#EDB120" stroke-width="1.5"/>
<text x="164.90" y="193.95" font-size="8.2" text-anchor="start" font-family="Liberation Sans, sans-serif" fill="#222" stroke="#222" stroke-width="0.12" textLength="77.29" lengthAdjust="spacingAndGlyphs">Q with SEU for GNRFET</text>
<path d="M152.4,201.30H163.0" stroke="#7E2F8E" stroke-width="1.5"/>
<text x="164.90" y="204.25" font-size="8.2" text-anchor="start" font-family="Liberation Sans, sans-serif" fill="#222" stroke="#222" stroke-width="0.12" textLength="38.66" lengthAdjust="spacingAndGlyphs">Qb w/o SEU</text>
<path d="M152.4,211.60H163.0" stroke="#77AC30" stroke-width="1.5"/>
<text x="164.90" y="214.55" font-size="8.2" text-anchor="start" font-family="Liberation Sans, sans-serif" fill="#222" stroke="#222" stroke-width="0.12" textLength="75.35" lengthAdjust="spacingAndGlyphs">Qb with SEU for FinFET</text>
<path d="M152.4,221.90H163.0" stroke="#4DBEEE" stroke-width="1.5"/>
<text x="164.90" y="224.85" font-size="8.2" text-anchor="start" font-family="Liberation Sans, sans-serif" fill="#222" stroke="#222" stroke-width="0.12" textLength="81.20" lengthAdjust="spacingAndGlyphs">Qb with SEU for GNRFET</text>
<rect x="428.5" y="154.8" width="105.30" height="73.10" fill="#fff" stroke="#4a4a4a" stroke-width="1"/>
<path d="M430.1,161.00H441.1" stroke="#0072BD" stroke-width="1.8"/>
<text x="443.70" y="164.60" font-size="10" text-anchor="start" font-family="Liberation Sans, sans-serif" fill="#222" stroke="#222" stroke-width="0.12" textLength="37.88" lengthAdjust="spacingAndGlyphs">Q w/o SEU</text>
<path d="M430.1,173.14H441.1" stroke="#D95319" stroke-width="1.8"/>
<text x="443.70" y="176.74" font-size="10" text-anchor="start" font-family="Liberation Sans, sans-serif" fill="#222" stroke="#222" stroke-width="0.12" textLength="77.86" lengthAdjust="spacingAndGlyphs">Q with SEU for FinFET</text>
<path d="M430.1,185.28H441.1" stroke="#EDB120" stroke-width="1.8"/>
<text x="443.70" y="188.88" font-size="10" text-anchor="start" font-family="Liberation Sans, sans-serif" fill="#222" stroke="#222" stroke-width="0.12" textLength="84.24" lengthAdjust="spacingAndGlyphs">Q with SEU for GNRFET</text>
<path d="M430.1,197.42H441.1" stroke="#7E2F8E" stroke-width="1.8"/>
<text x="443.70" y="201.02" font-size="10" text-anchor="start" font-family="Liberation Sans, sans-serif" fill="#222" stroke="#222" stroke-width="0.12" textLength="42.14" lengthAdjust="spacingAndGlyphs">Qb w/o SEU</text>
<path d="M430.1,209.56H441.1" stroke="#77AC30" stroke-width="1.8"/>
<text x="443.70" y="213.16" font-size="10" text-anchor="start" font-family="Liberation Sans, sans-serif" fill="#222" stroke="#222" stroke-width="0.12" textLength="82.12" lengthAdjust="spacingAndGlyphs">Qb with SEU for FinFET</text>
<path d="M430.1,221.70H441.1" stroke="#4DBEEE" stroke-width="1.8"/>
<text x="443.70" y="225.30" font-size="10" text-anchor="start" font-family="Liberation Sans, sans-serif" fill="#222" stroke="#222" stroke-width="0.12" textLength="88.50" lengthAdjust="spacingAndGlyphs">Qb with SEU for GNRFET</text>
</svg>
</body></html>
